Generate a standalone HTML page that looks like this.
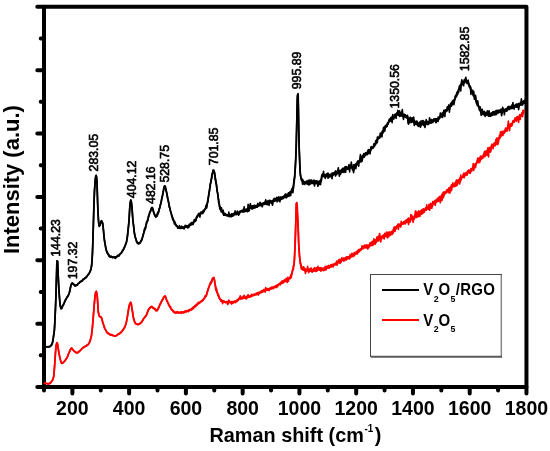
<!DOCTYPE html>
<html><head><meta charset="utf-8"><title>Raman spectra</title>
<style>html,body{margin:0;padding:0;background:#fff;}body{width:550px;height:451px;overflow:hidden;}svg{display:block;}</style>
</head><body>
<svg width="550" height="451" viewBox="0 0 550 451"><rect x="44" y="6.8" width="482.46" height="380.2" fill="none" stroke="#000" stroke-width="4" stroke-linejoin="round"/>
<path d="M44.00,387.0V390.4M72.38,387.0V393.5M100.76,387.0V390.4M129.14,387.0V393.5M157.52,387.0V390.4M185.90,387.0V393.5M214.28,387.0V390.4M242.66,387.0V393.5M271.04,387.0V390.4M299.42,387.0V393.5M327.80,387.0V390.4M356.18,387.0V393.5M384.56,387.0V390.4M412.94,387.0V393.5M441.32,387.0V390.4M469.70,387.0V393.5M498.08,387.0V390.4M526.46,387.0V393.5M44,387.00H37.3M44,355.32H40.7M44,323.63H37.3M44,291.95H40.7M44,260.27H37.3M44,228.58H40.7M44,196.90H37.3M44,165.22H40.7M44,133.53H37.3M44,101.85H40.7M44,70.17H37.3M44,38.48H40.7M44,6.80H37.3" stroke="#000" stroke-width="4" stroke-linecap="round" fill="none"/>
<path d="M44.00,382.6 44.28,382.8 44.57,382.9 44.85,382.9 45.13,383.2 45.42,383.2 45.70,383.3 45.99,383.4 46.27,383.5 46.55,383.6 46.84,383.6 47.12,383.7 47.40,383.7 47.69,383.8 47.97,383.8 48.25,383.8 48.54,383.8 48.82,383.7 49.10,383.6 49.39,383.5 49.67,383.3 49.96,383.2 50.24,383.0 50.52,382.8 50.81,382.4 51.09,382.1 51.37,381.8 51.66,381.4 51.94,381.0 52.22,380.5 52.51,380.1 52.79,379.4 53.08,378.7 53.36,378.0 53.64,376.8 53.93,374.5 54.21,371.1 54.49,367.4 54.78,363.3 55.06,359.1 55.34,354.6 55.63,350.7 55.91,347.8 56.19,345.3 56.48,344.0 56.76,343.1 57.05,342.8 57.33,343.4 57.61,344.6 57.90,346.3 58.18,348.3 58.46,350.1 58.75,351.9 59.03,353.5 59.31,355.2 59.60,356.4 59.88,357.8 60.17,358.8 60.45,359.8 60.73,360.9 61.02,361.9 61.30,362.7 61.58,363.1 61.87,363.3 62.15,363.4 62.43,363.2 62.72,363.0 63.00,362.8 63.28,362.3 63.57,362.2 63.85,361.9 64.14,361.5 64.42,361.2 64.70,361.0 64.99,360.6 65.27,360.3 65.55,359.8 65.84,359.3 66.12,359.0 66.40,358.6 66.69,358.2 66.97,357.7 67.26,357.0 67.54,356.4 67.82,355.9 68.11,355.2 68.39,354.3 68.67,353.7 68.96,353.0 69.24,352.3 69.52,351.7 69.81,351.0 70.09,350.4 70.37,349.8 70.66,349.3 70.94,348.5 71.23,348.3 71.51,348.2 71.79,348.2 72.08,348.5 72.36,348.7 72.64,349.2 72.93,349.6 73.21,350.0 73.49,350.5 73.78,350.7 74.06,350.9 74.35,351.1 74.63,351.6 74.91,351.7 75.20,351.9 75.48,352.2 75.76,352.4 76.05,352.6 76.33,352.7 76.61,352.8 76.90,352.7 77.18,352.8 77.46,352.6 77.75,352.6 78.03,352.5 78.32,352.0 78.60,351.7 78.88,351.7 79.17,351.7 79.45,351.1 79.73,350.8 80.02,350.8 80.30,350.4 80.58,350.1 80.87,349.8 81.15,349.6 81.44,349.2 81.72,349.0 82.00,348.6 82.29,348.3 82.57,348.0 82.85,347.7 83.14,347.6 83.42,347.3 83.70,347.1 83.99,347.2 84.27,346.9 84.55,346.7 84.84,346.6 85.12,346.4 85.41,346.2 85.69,346.1 85.97,346.0 86.26,345.7 86.54,345.7 86.82,345.3 87.11,345.1 87.39,344.9 87.67,344.7 87.96,344.7 88.24,344.2 88.53,344.0 88.81,343.4 89.09,343.2 89.38,342.7 89.66,341.9 89.94,341.2 90.23,340.4 90.51,339.5 90.79,338.5 91.08,337.5 91.36,336.0 91.64,334.1 91.93,331.8 92.21,329.2 92.50,326.3 92.78,323.2 93.06,320.1 93.35,316.3 93.63,312.6 93.91,308.4 94.20,304.8 94.48,301.8 94.76,298.7 95.05,295.9 95.33,294.1 95.62,292.7 95.90,292.4 96.18,291.6 96.47,291.7 96.75,293.0 97.03,295.0 97.32,296.9 97.60,300.4 97.88,305.8 98.17,310.9 98.45,313.0 98.73,313.8 99.02,315.2 99.30,315.7 99.59,316.5 99.87,316.6 100.15,316.8 100.44,316.7 100.72,317.2 101.00,317.3 101.29,317.2 101.57,317.8 101.85,318.7 102.14,319.9 102.42,321.0 102.71,322.5 102.99,323.1 103.27,324.0 103.56,325.0 103.84,325.7 104.12,326.6 104.41,327.4 104.69,328.2 104.97,328.7 105.26,329.4 105.54,329.9 105.82,330.4 106.11,330.9 106.39,331.3 106.68,331.8 106.96,332.1 107.24,332.5 107.53,332.7 107.81,333.0 108.09,333.2 108.38,333.6 108.66,333.6 108.94,333.8 109.23,334.0 109.51,334.2 109.80,334.3 110.08,334.2 110.36,334.6 110.65,334.7 110.93,334.6 111.21,335.0 111.50,334.9 111.78,334.9 112.06,335.2 112.35,335.2 112.63,335.4 112.91,335.3 113.20,335.7 113.48,335.6 113.77,335.5 114.05,335.8 114.33,335.8 114.62,335.9 114.90,335.9 115.18,335.9 115.47,335.9 115.75,335.7 116.03,335.8 116.32,335.6 116.60,335.4 116.89,335.3 117.17,335.2 117.45,334.9 117.74,334.7 118.02,334.6 118.30,334.2 118.59,334.1 118.87,334.0 119.15,333.6 119.44,333.6 119.72,333.4 120.00,333.2 120.29,332.8 120.57,332.6 120.86,332.4 121.14,331.8 121.42,332.2 121.71,331.4 121.99,331.1 122.27,331.0 122.56,330.5 122.84,330.0 123.12,329.9 123.41,329.5 123.69,328.9 123.98,328.5 124.26,328.1 124.54,327.4 124.83,326.9 125.11,326.3 125.39,325.5 125.68,324.6 125.96,323.8 126.24,322.6 126.53,321.5 126.81,319.9 127.09,318.4 127.38,316.7 127.66,315.2 127.95,313.3 128.23,311.6 128.51,309.7 128.80,307.6 129.08,306.0 129.36,305.0 129.65,304.2 129.93,303.5 130.21,303.1 130.50,302.6 130.78,302.7 131.07,303.0 131.35,304.4 131.63,306.3 131.92,307.9 132.20,309.8 132.48,311.3 132.77,313.2 133.05,315.1 133.33,316.9 133.62,318.2 133.90,319.4 134.18,320.2 134.47,321.5 134.75,322.1 135.04,322.6 135.32,323.1 135.60,323.4 135.89,323.6 136.17,323.7 136.45,323.8 136.74,324.1 137.02,324.1 137.30,324.4 137.59,324.5 137.87,324.4 138.16,324.5 138.44,324.2 138.72,324.4 139.01,324.2 139.29,324.2 139.57,324.1 139.86,323.4 140.14,323.5 140.42,323.0 140.71,323.0 140.99,322.4 141.27,322.2 141.56,322.0 141.84,321.7 142.13,321.3 142.41,320.7 142.69,320.3 142.98,320.0 143.26,319.3 143.54,318.6 143.83,318.6 144.11,318.2 144.39,317.9 144.68,317.3 144.96,317.2 145.25,316.5 145.53,316.4 145.81,315.8 146.10,315.6 146.38,315.1 146.66,314.2 146.95,313.7 147.23,312.9 147.51,312.3 147.80,311.5 148.08,310.4 148.36,310.1 148.65,309.6 148.93,309.4 149.22,308.4 149.50,308.3 149.78,308.3 150.07,307.5 150.35,307.2 150.63,307.3 150.92,307.2 151.20,306.8 151.48,307.0 151.77,307.0 152.05,307.3 152.34,307.2 152.62,307.6 152.90,307.4 153.19,307.8 153.47,308.1 153.75,308.6 154.04,308.7 154.32,308.6 154.60,309.1 154.89,309.4 155.17,309.5 155.45,309.7 155.74,309.9 156.02,309.9 156.31,310.4 156.59,310.5 156.87,310.3 157.16,310.5 157.44,309.9 157.72,309.6 158.01,309.0 158.29,308.8 158.57,307.4 158.86,307.1 159.14,306.5 159.43,305.7 159.71,305.3 159.99,304.3 160.28,303.5 160.56,303.5 160.84,302.5 161.13,302.1 161.41,301.4 161.69,301.3 161.98,300.8 162.26,299.9 162.54,299.8 162.83,299.1 163.11,298.5 163.40,298.0 163.68,297.4 163.96,297.2 164.25,296.7 164.53,296.3 164.81,296.5 165.10,296.2 165.38,296.7 165.66,297.3 165.95,298.1 166.23,298.4 166.52,299.8 166.80,300.2 167.08,301.0 167.37,301.6 167.65,302.4 167.93,302.9 168.22,303.3 168.50,303.9 168.78,304.6 169.07,305.1 169.35,306.1 169.63,306.6 169.92,307.0 170.20,307.4 170.49,307.7 170.77,308.2 171.05,308.8 171.34,309.5 171.62,309.7 171.90,309.9 172.19,310.3 172.47,310.6 172.75,310.8 173.04,311.2 173.32,311.5 173.61,312.1 173.89,311.8 174.17,312.2 174.46,312.4 174.74,312.1 175.02,312.5 175.31,312.4 175.59,312.3 175.87,312.5 176.16,312.5 176.44,312.5 176.72,312.5 177.01,312.6 177.29,312.7 177.58,312.4 177.86,312.6 178.14,312.3 178.43,312.7 178.71,312.7 178.99,312.6 179.28,312.7 179.56,312.7 179.84,312.5 180.13,312.5 180.41,312.7 180.70,312.8 180.98,312.7 181.26,313.2 181.55,312.5 181.83,312.7 182.11,312.8 182.40,312.4 182.68,312.2 182.96,312.0 183.25,312.2 183.53,312.4 183.81,312.1 184.10,312.0 184.38,311.7 184.67,311.9 184.95,311.1 185.23,311.6 185.52,311.4 185.80,311.0 186.08,311.8 186.37,310.8 186.65,310.8 186.93,310.7 187.22,311.1 187.50,310.6 187.79,310.8 188.07,310.7 188.35,310.5 188.64,310.1 188.92,310.1 189.20,310.6 189.49,309.7 189.77,309.7 190.05,309.8 190.34,309.9 190.62,309.6 190.90,309.6 191.19,309.0 191.47,309.4 191.76,309.1 192.04,308.4 192.32,309.0 192.61,308.9 192.89,307.9 193.17,307.9 193.46,308.0 193.74,307.0 194.02,306.6 194.31,306.6 194.59,306.5 194.88,306.2 195.16,306.3 195.44,306.0 195.73,305.3 196.01,305.6 196.29,305.7 196.58,305.3 196.86,305.0 197.14,304.5 197.43,304.5 197.71,303.8 197.99,304.0 198.28,303.5 198.56,303.6 198.85,303.2 199.13,302.6 199.41,302.7 199.70,302.8 199.98,301.9 200.26,301.9 200.55,301.6 200.83,301.2 201.11,301.7 201.40,301.6 201.68,301.2 201.97,300.8 202.25,300.4 202.53,300.2 202.82,299.7 203.10,299.9 203.38,299.6 203.67,299.2 203.95,298.4 204.23,298.2 204.52,297.8 204.80,297.9 205.08,297.0 205.37,295.9 205.65,296.1 205.94,296.1 206.22,295.2 206.50,294.7 206.79,293.8 207.07,292.4 207.35,291.6 207.64,290.8 207.92,290.2 208.20,289.4 208.49,288.6 208.77,287.4 209.06,287.1 209.34,286.0 209.62,285.2 209.91,285.1 210.19,284.0 210.47,282.8 210.76,282.9 211.04,282.7 211.32,281.1 211.61,281.5 211.89,281.0 212.17,280.0 212.46,279.2 212.74,278.9 213.03,278.2 213.31,278.4 213.59,277.9 213.88,277.6 214.16,278.8 214.44,280.7 214.73,282.7 215.01,283.7 215.29,285.1 215.58,286.9 215.86,287.4 216.15,288.6 216.43,289.4 216.71,290.8 217.00,292.7 217.28,292.4 217.56,293.7 217.85,294.0 218.13,295.3 218.41,296.3 218.70,296.6 218.98,297.5 219.26,298.1 219.55,298.5 219.83,299.3 220.12,299.3 220.40,299.3 220.68,299.4 220.97,299.7 221.25,300.4 221.53,300.3 221.82,301.5 222.10,301.5 222.38,301.0 222.67,301.1 222.95,301.9 223.24,300.8 223.52,301.4 223.80,301.9 224.09,301.4 224.37,301.6 224.65,301.7 224.94,302.1 225.22,302.0 225.50,302.2 225.79,302.3 226.07,302.2 226.35,302.6 226.64,302.0 226.92,301.8 227.21,301.7 227.49,301.8 227.77,302.2 228.06,302.7 228.34,302.5 228.62,302.2 228.91,302.0 229.19,302.2 229.47,302.3 229.76,302.2 230.04,301.9 230.33,302.2 230.61,302.7 230.89,301.7 231.18,302.3 231.46,301.7 231.74,302.5 232.03,302.1 232.31,301.7 232.59,302.4 232.88,303.0 233.16,302.3 233.44,302.6 233.73,302.1 234.01,301.3 234.30,302.1 234.58,301.7 234.86,301.2 235.15,301.8 235.43,301.5 235.71,301.1 236.00,301.4 236.28,300.6 236.56,301.0 236.85,300.3 237.13,300.6 237.42,299.9 237.70,300.7 237.98,300.0 238.27,300.2 238.55,299.2 238.83,299.1 239.12,299.3 239.40,297.8 239.68,298.3 239.97,298.9 240.25,298.6 240.53,298.7 240.82,298.1 241.10,298.4 241.39,297.8 241.67,297.5 241.95,297.3 242.24,297.7 242.52,297.7 242.80,297.6 243.09,296.4 243.37,297.0 243.65,297.5 243.94,297.7 244.22,297.3 244.51,297.2 244.79,296.6 245.07,298.1 245.36,296.9 245.64,297.9 245.92,297.8 246.21,297.2 246.49,296.9 246.77,297.1 247.06,296.5 247.34,297.0 247.62,296.8 247.91,297.0 248.19,297.1 248.48,297.3 248.76,296.4 249.04,296.9 249.33,296.1 249.61,296.0 249.89,296.0 250.18,295.8 250.46,296.5 250.74,296.4 251.03,296.5 251.31,295.9 251.60,295.9 251.88,295.5 252.16,295.1 252.45,295.7 252.73,295.5 253.01,294.8 253.30,295.4 253.58,294.4 253.86,294.9 254.15,294.6 254.43,294.5 254.71,294.2 255.00,294.8 255.28,294.6 255.57,294.7 255.85,294.2 256.13,293.5 256.42,293.7 256.70,293.3 256.98,293.8 257.27,294.0 257.55,293.6 257.83,293.1 258.12,293.1 258.40,293.2 258.69,292.4 258.97,292.9 259.25,292.8 259.54,292.4 259.82,292.3 260.10,292.5 260.39,291.9 260.67,291.8 260.95,292.4 261.24,292.0 261.52,292.5 261.80,291.3 262.09,290.8 262.37,291.9 262.66,291.7 262.94,290.9 263.22,290.5 263.51,291.0 263.79,290.1 264.07,290.6 264.36,289.7 264.64,290.4 264.92,289.5 265.21,290.2 265.49,290.8 265.78,289.9 266.06,290.3 266.34,289.5 266.63,289.3 266.91,289.0 267.19,290.0 267.48,289.4 267.76,290.0 268.04,288.7 268.33,289.1 268.61,289.1 268.89,289.6 269.18,289.7 269.46,288.6 269.75,288.3 270.03,287.9 270.31,289.2 270.60,288.5 270.88,288.2 271.16,288.4 271.45,287.2 271.73,287.4 272.01,288.5 272.30,288.2 272.58,288.0 272.87,287.4 273.15,288.0 273.43,288.4 273.72,286.9 274.00,287.3 274.28,286.9 274.57,287.1 274.85,286.8 275.13,286.6 275.42,286.0 275.70,286.3 275.98,285.8 276.27,285.9 276.55,285.7 276.84,285.9 277.12,285.1 277.40,285.1 277.69,285.6 277.97,284.8 278.25,284.6 278.54,285.0 278.82,284.6 279.10,284.3 279.39,284.3 279.67,283.4 279.96,284.1 280.24,284.4 280.52,283.9 280.81,282.7 281.09,283.4 281.37,282.7 281.66,282.9 281.94,282.9 282.22,282.1 282.51,283.2 282.79,282.4 283.07,282.7 283.36,282.4 283.64,282.6 283.93,282.4 284.21,280.9 284.49,281.5 284.78,280.2 285.06,280.9 285.34,281.3 285.63,281.2 285.91,281.2 286.19,280.2 286.48,280.4 286.76,280.1 287.05,280.5 287.33,280.5 287.61,279.3 287.90,281.2 288.18,279.1 288.46,278.7 288.75,279.0 289.03,278.9 289.31,278.6 289.60,277.8 289.88,278.7 290.16,277.6 290.45,278.1 290.73,277.7 291.02,275.7 291.30,275.0 291.58,274.1 291.87,273.7 292.15,272.5 292.43,271.5 292.72,270.0 293.00,269.8 293.28,269.4 293.57,266.7 293.85,265.8 294.14,263.9 294.42,259.2 294.70,253.1 294.99,247.6 295.27,240.2 295.55,231.6 295.84,220.9 296.12,210.2 296.40,203.5 296.69,202.7 296.97,203.1 297.25,206.5 297.54,214.8 297.82,219.9 298.11,227.4 298.39,234.5 298.67,244.0 298.96,247.8 299.24,251.9 299.52,256.6 299.81,258.6 300.09,261.9 300.37,263.6 300.66,263.1 300.94,265.2 301.23,265.3 301.51,266.9 301.79,268.0 302.08,267.1 302.36,269.4 302.64,268.6 302.93,268.4 303.21,269.3 303.49,270.0 303.78,268.9 304.06,269.8 304.34,269.0 304.63,270.6 304.91,270.0 305.20,269.7 305.48,270.6 305.76,269.2 306.05,269.8 306.33,271.1 306.61,270.0 306.90,270.9 307.18,270.2 307.46,269.7 307.75,270.0 308.03,270.2 308.32,269.9 308.60,269.7 308.88,269.7 309.17,269.3 309.45,270.3 309.73,270.4 310.02,270.6 310.30,269.1 310.58,270.7 310.87,270.2 311.15,269.3 311.43,270.2 311.72,270.6 312.00,270.4 312.29,270.5 312.57,270.6 312.85,270.6 313.14,270.0 313.42,268.8 313.70,269.5 313.99,270.2 314.27,269.7 314.55,270.3 314.84,270.4 315.12,269.9 315.41,271.0 315.69,269.2 315.97,270.4 316.26,269.5 316.54,269.3 316.82,270.1 317.11,269.3 317.39,270.2 317.67,268.9 317.96,269.6 318.24,269.1 318.52,269.4 318.81,269.3 319.09,268.8 319.38,269.9 319.66,268.7 319.94,268.8 320.23,270.0 320.51,270.0 320.79,269.8 321.08,269.5 321.36,270.7 321.64,268.5 321.93,268.7 322.21,268.5 322.50,269.6 322.78,269.2 323.06,269.7 323.35,269.5 323.63,268.7 323.91,268.3 324.20,268.1 324.48,270.0 324.76,269.1 325.05,268.8 325.33,268.2 325.61,268.2 325.90,268.0 326.18,267.9 326.47,266.5 326.75,267.9 327.03,267.6 327.32,267.9 327.60,267.7 327.88,268.0 328.17,267.4 328.45,267.8 328.73,265.6 329.02,266.4 329.30,268.0 329.59,266.0 329.87,266.5 330.15,267.0 330.44,265.8 330.72,266.7 331.00,265.2 331.29,264.7 331.57,265.0 331.85,264.6 332.14,265.5 332.42,265.1 332.70,265.4 332.99,264.4 333.27,266.5 333.56,264.7 333.84,264.5 334.12,264.7 334.41,264.1 334.69,263.7 334.97,264.0 335.26,264.4 335.54,264.1 335.82,264.1 336.11,263.0 336.39,262.7 336.68,264.3 336.96,262.8 337.24,263.1 337.53,263.1 337.81,263.4 338.09,261.4 338.38,261.9 338.66,261.7 338.94,261.7 339.23,260.2 339.51,261.5 339.79,259.5 340.08,261.5 340.36,261.5 340.65,261.4 340.93,260.1 341.21,261.3 341.50,260.0 341.78,259.6 342.06,259.6 342.35,259.6 342.63,260.1 342.91,260.4 343.20,258.4 343.48,259.3 343.77,260.1 344.05,259.5 344.33,259.6 344.62,258.2 344.90,259.7 345.18,257.9 345.47,259.0 345.75,259.7 346.03,259.9 346.32,258.9 346.60,259.0 346.88,257.9 347.17,257.9 347.45,258.8 347.74,257.9 348.02,257.7 348.30,256.8 348.59,257.7 348.87,257.8 349.15,256.7 349.44,256.8 349.72,258.0 350.00,256.9 350.29,256.4 350.57,255.7 350.86,255.9 351.14,255.9 351.42,256.8 351.71,255.3 351.99,256.7 352.27,254.7 352.56,254.9 352.84,255.5 353.12,254.5 353.41,253.9 353.69,254.2 353.97,254.4 354.26,252.7 354.54,253.5 354.83,253.4 355.11,253.0 355.39,253.6 355.68,252.5 355.96,252.4 356.24,252.5 356.53,252.8 356.81,251.9 357.09,252.9 357.38,251.0 357.66,252.3 357.95,250.6 358.23,250.9 358.51,251.0 358.80,252.0 359.08,251.0 359.36,249.9 359.65,250.9 359.93,249.6 360.21,249.0 360.50,249.7 360.78,249.3 361.06,249.7 361.35,248.5 361.63,249.0 361.92,249.0 362.20,248.6 362.48,248.2 362.77,247.6 363.05,248.6 363.33,248.0 363.62,248.1 363.90,247.4 364.18,247.5 364.47,246.7 364.75,247.3 365.04,247.7 365.32,247.1 365.60,247.5 365.89,247.0 366.17,247.7 366.45,246.5 366.74,245.3 367.02,246.7 367.30,246.1 367.59,245.4 367.87,246.4 368.15,246.0 368.44,246.0 368.72,245.3 369.01,245.5 369.29,245.4 369.57,246.3 369.86,244.4 370.14,244.7 370.42,244.8 370.71,243.2 370.99,243.1 371.27,245.6 371.56,242.6 371.84,244.1 372.13,242.9 372.41,242.8 372.69,241.7 372.98,242.3 373.26,243.4 373.54,241.6 373.83,242.9 374.11,242.5 374.39,243.5 374.68,241.5 374.96,242.6 375.24,242.2 375.53,241.1 375.81,239.9 376.10,242.0 376.38,239.7 376.66,240.2 376.95,241.0 377.23,240.9 377.51,239.3 377.80,239.7 378.08,239.3 378.36,240.2 378.65,240.9 378.93,237.5 379.22,239.4 379.50,236.4 379.78,238.3 380.07,237.3 380.35,239.4 380.63,237.9 380.92,237.0 381.20,237.1 381.48,236.8 381.77,237.3 382.05,236.8 382.33,237.3 382.62,237.8 382.90,237.0 383.19,235.5 383.47,235.0 383.75,235.5 384.04,236.7 384.32,235.6 384.60,235.2 384.89,235.6 385.17,234.3 385.45,234.4 385.74,235.5 386.02,234.7 386.31,234.5 386.59,234.9 386.87,234.1 387.16,233.9 387.44,233.9 387.72,234.5 388.01,234.0 388.29,232.8 388.57,233.4 388.86,233.9 389.14,234.7 389.42,232.2 389.71,233.2 389.99,232.6 390.28,233.3 390.56,232.8 390.84,233.4 391.13,232.5 391.41,231.5 391.69,231.4 391.98,231.9 392.26,231.7 392.54,233.1 392.83,232.3 393.11,229.9 393.40,230.9 393.68,229.4 393.96,228.9 394.25,230.6 394.53,230.2 394.81,228.7 395.10,230.6 395.38,228.2 395.66,227.8 395.95,229.0 396.23,228.4 396.51,227.8 396.80,227.6 397.08,227.6 397.37,227.0 397.65,226.7 397.93,225.1 398.22,225.3 398.50,226.6 398.78,225.3 399.07,226.1 399.35,226.4 399.63,225.0 399.92,225.3 400.20,226.5 400.49,225.2 400.77,225.9 401.05,225.5 401.34,224.7 401.62,223.8 401.90,223.1 402.19,222.7 402.47,223.8 402.75,223.6 403.04,222.9 403.32,223.6 403.60,222.2 403.89,223.5 404.17,222.4 404.46,222.2 404.74,222.1 405.02,221.8 405.31,223.8 405.59,220.3 405.87,221.6 406.16,222.3 406.44,221.7 406.72,220.8 407.01,222.3 407.29,219.8 407.58,219.5 407.86,220.9 408.14,219.0 408.43,218.1 408.71,220.7 408.99,220.4 409.28,220.2 409.56,219.1 409.84,219.5 410.13,218.4 410.41,220.4 410.69,219.5 410.98,219.3 411.26,216.9 411.55,219.0 411.83,219.4 412.11,219.0 412.40,218.5 412.68,217.7 412.96,217.2 413.25,217.8 413.53,217.5 413.81,217.2 414.10,216.6 414.38,218.1 414.67,215.5 414.95,216.3 415.23,215.7 415.52,216.9 415.80,217.0 416.08,216.7 416.37,216.2 416.65,214.2 416.93,216.9 417.22,215.5 417.50,214.8 417.78,214.7 418.07,214.2 418.35,214.7 418.64,214.4 418.92,213.7 419.20,211.7 419.49,213.6 419.77,213.9 420.05,213.8 420.34,213.0 420.62,213.4 420.90,213.7 421.19,212.2 421.47,213.7 421.76,210.6 422.04,211.0 422.32,211.1 422.61,209.6 422.89,210.7 423.17,212.4 423.46,212.2 423.74,211.0 424.02,212.2 424.31,210.8 424.59,209.9 424.87,210.4 425.16,209.8 425.44,210.4 425.73,208.2 426.01,210.2 426.29,208.7 426.58,209.6 426.86,207.4 427.14,208.1 427.43,208.3 427.71,208.8 427.99,206.8 428.28,209.1 428.56,207.8 428.85,206.7 429.13,208.0 429.41,206.8 429.70,207.5 429.98,208.3 430.26,206.7 430.55,205.4 430.83,205.2 431.11,205.9 431.40,205.4 431.68,204.2 431.96,204.1 432.25,205.0 432.53,206.3 432.82,201.6 433.10,204.4 433.38,203.3 433.67,203.9 433.95,203.8 434.23,202.8 434.52,201.6 434.80,201.1 435.08,200.4 435.37,202.9 435.65,201.4 435.94,200.9 436.22,200.9 436.50,199.7 436.79,200.9 437.07,201.6 437.35,201.2 437.64,198.5 437.92,200.9 438.20,198.7 438.49,197.4 438.77,197.8 439.05,197.8 439.34,198.4 439.62,197.2 439.91,196.5 440.19,197.4 440.47,199.1 440.76,196.5 441.04,197.2 441.32,196.6 441.61,198.7 441.89,194.3 442.17,196.8 442.46,194.4 442.74,194.7 443.03,194.9 443.31,197.6 443.59,193.8 443.88,192.5 444.16,195.1 444.44,192.9 444.73,193.2 445.01,193.1 445.29,193.0 445.58,192.5 445.86,192.6 446.14,192.4 446.43,192.6 446.71,191.2 447.00,190.6 447.28,190.1 447.56,191.3 447.85,190.5 448.13,190.8 448.41,190.5 448.70,191.3 448.98,189.7 449.26,189.9 449.55,187.9 449.83,187.8 450.12,188.2 450.40,187.1 450.68,188.6 450.97,186.5 451.25,187.5 451.53,185.0 451.82,185.9 452.10,186.4 452.38,186.2 452.67,184.6 452.95,186.0 453.23,186.5 453.52,186.0 453.80,184.5 454.09,184.4 454.37,183.6 454.65,184.9 454.94,185.4 455.22,183.4 455.50,182.1 455.79,183.5 456.07,183.7 456.35,180.4 456.64,182.7 456.92,184.3 457.21,182.8 457.49,182.3 457.77,181.9 458.06,182.3 458.34,180.2 458.62,180.0 458.91,180.9 459.19,179.7 459.47,180.3 459.76,178.1 460.04,180.2 460.32,180.0 460.61,179.1 460.89,178.9 461.18,180.0 461.46,177.3 461.74,177.2 462.03,176.8 462.31,177.1 462.59,176.4 462.88,177.1 463.16,176.2 463.44,175.2 463.73,174.9 464.01,177.2 464.30,175.8 464.58,175.4 464.86,175.4 465.15,175.0 465.43,175.5 465.71,175.1 466.00,173.8 466.28,173.4 466.56,172.9 466.85,172.5 467.13,174.7 467.41,172.3 467.70,171.1 467.98,171.9 468.27,171.7 468.55,172.4 468.83,171.1 469.12,172.1 469.40,171.7 469.68,172.2 469.97,172.8 470.25,173.1 470.53,171.5 470.82,169.0 471.10,169.4 471.39,169.7 471.67,171.0 471.95,169.5 472.24,169.7 472.52,168.1 472.80,168.5 473.09,168.3 473.37,166.9 473.65,167.7 473.94,167.6 474.22,166.1 474.50,166.8 474.79,167.0 475.07,165.2 475.36,164.8 475.64,164.1 475.92,163.5 476.21,163.8 476.49,162.9 476.77,162.6 477.06,161.8 477.34,160.7 477.62,160.9 477.91,161.7 478.19,160.0 478.48,160.1 478.76,161.8 479.04,161.0 479.33,159.1 479.61,159.9 479.89,158.5 480.18,160.3 480.46,158.0 480.74,158.4 481.03,159.3 481.31,157.1 481.59,158.8 481.88,156.7 482.16,157.4 482.45,156.7 482.73,156.7 483.01,156.7 483.30,156.3 483.58,155.3 483.86,156.7 484.15,156.4 484.43,156.7 484.71,156.5 485.00,153.8 485.28,155.9 485.57,155.6 485.85,153.7 486.13,154.9 486.42,155.0 486.70,152.9 486.98,151.8 487.27,152.4 487.55,155.0 487.83,152.4 488.12,150.8 488.40,151.3 488.68,150.3 488.97,150.6 489.25,150.7 489.54,148.0 489.82,150.3 490.10,150.9 490.39,149.1 490.67,148.6 490.95,149.6 491.24,147.1 491.52,146.8 491.80,146.4 492.09,147.1 492.37,147.3 492.66,146.5 492.94,146.7 493.22,146.6 493.51,146.0 493.79,144.5 494.07,144.6 494.36,145.6 494.64,143.2 494.92,143.5 495.21,143.0 495.49,142.8 495.77,141.6 496.06,141.0 496.34,144.1 496.63,142.3 496.91,140.4 497.19,140.6 497.48,140.8 497.76,139.5 498.04,140.0 498.33,138.5 498.61,138.4 498.89,138.2 499.18,137.5 499.46,135.4 499.75,137.2 500.03,137.1 500.31,136.9 500.60,135.2 500.88,136.1 501.16,135.6 501.45,133.5 501.73,132.7 502.01,134.8 502.30,133.2 502.58,134.6 502.86,135.3 503.15,132.5 503.43,132.0 503.72,132.3 504.00,132.6 504.28,130.6 504.57,132.4 504.85,131.9 505.13,131.3 505.42,129.8 505.70,130.8 505.98,130.5 506.27,128.3 506.55,130.9 506.84,128.5 507.12,128.8 507.40,127.7 507.69,128.2 507.97,128.6 508.25,126.5 508.54,125.4 508.82,126.2 509.10,125.2 509.39,125.4 509.67,125.6 509.95,125.4 510.24,126.3 510.52,124.0 510.81,124.9 511.09,123.9 511.37,125.3 511.66,126.0 511.94,123.7 512.22,124.7 512.51,122.4 512.79,121.2 513.07,121.2 513.36,120.6 513.64,120.9 513.93,121.2 514.21,122.2 514.49,121.5 514.78,121.0 515.06,119.9 515.34,119.4 515.63,119.8 515.91,119.6 516.19,119.4 516.48,119.2 516.76,118.5 517.04,116.6 517.33,117.0 517.61,117.0 517.90,119.0 518.18,116.8 518.46,117.5 518.75,118.0 519.03,116.7 519.31,115.7 519.60,115.5 519.88,114.6 520.16,115.5 520.45,116.0 520.73,115.2 521.02,115.1 521.30,114.8 521.58,115.7 521.87,113.0 522.15,113.4 522.43,113.6 522.72,113.9 523.00,110.3 523.28,111.7 523.57,111.7 523.85,110.7 524.13,112.1" stroke="#f00" stroke-width="1.8" fill="none" stroke-linejoin="round"/>
<path d="M44.00,382.6 44.57,383.1 45.13,383.3 45.70,383.2 46.27,383.4 46.84,383.5 47.40,383.8 47.97,383.8 48.54,383.9 49.10,383.3 49.67,383.6 50.24,383.0 50.80,382.7 51.37,381.8 51.94,380.9 52.51,380.0 53.07,378.9 53.64,376.8 54.21,371.1 54.77,363.5 55.34,354.6 55.91,347.5 56.47,344.1 57.04,342.6 57.61,344.0 58.18,348.1 58.74,351.7 59.31,354.8 59.88,357.4 60.44,359.9 61.01,362.1 61.58,363.1 62.14,363.2 62.71,363.1 63.28,362.6 63.85,361.8 64.41,361.4 64.98,360.8 65.55,359.8 66.11,358.9 66.68,358.2 67.25,357.2 67.81,356.1 68.38,354.1 68.95,352.8 69.52,351.4 70.08,350.0 70.65,349.3 71.22,348.5 71.78,348.1 72.35,349.1 72.92,349.8 73.48,350.5 74.05,351.0 74.62,351.7 75.19,351.6 75.75,352.5 76.32,352.8 76.89,352.4 77.45,352.8 78.02,352.3 78.59,352.1 79.15,351.3 79.72,350.9 80.29,350.5 80.86,349.7 81.42,349.4 81.99,348.6 82.56,348.2 83.12,347.5 83.69,347.5 84.26,347.1 84.82,346.5 85.39,346.4 85.96,346.3 86.53,346.1 87.09,344.8 87.66,345.0 88.23,344.4 88.79,343.6 89.36,342.4 89.93,341.6 90.49,339.2 91.06,337.5 91.63,334.7 92.20,328.8 92.76,323.3 93.33,316.3 93.90,308.8 94.46,302.4 95.03,296.8 95.60,292.2 96.16,291.3 96.73,293.3 97.30,297.6 97.87,305.6 98.43,312.5 99.00,315.3 99.57,316.4 100.13,316.7 100.70,316.7 101.27,317.4 101.83,318.8 102.40,321.0 102.97,323.1 103.54,324.5 104.10,326.4 104.67,328.5 105.24,329.3 105.80,330.0 106.37,331.7 106.94,332.3 107.50,333.4 108.07,333.3 108.64,333.5 109.21,333.6 109.77,334.7 110.34,335.3 110.91,334.5 111.47,334.8 112.04,335.3 112.61,335.1 113.17,335.5 113.74,335.6 114.31,335.9 114.88,336.2 115.44,335.9 116.01,336.0 116.58,335.4 117.14,335.3 117.71,334.2 118.28,334.0 118.84,334.2 119.41,333.4 119.98,333.3 120.55,332.8 121.11,332.5 121.68,331.8 122.25,331.2 122.81,330.2 123.38,329.2 123.95,328.3 124.51,327.4 125.08,326.0 125.65,324.7 126.22,322.8 126.78,320.1 127.35,316.8 127.92,312.9 128.48,309.7 129.05,306.3 129.62,304.8 130.18,303.3 130.75,302.2 131.32,303.9 131.89,308.5 132.45,311.4 133.02,315.7 133.59,319.0 134.15,320.0 134.72,322.1 135.29,323.3 135.85,323.9 136.42,324.1 136.99,324.2 137.56,324.4 138.12,323.8 138.69,324.3 139.26,323.8 139.82,323.8 140.39,323.0 140.96,322.9 141.52,322.3 142.09,321.5 142.66,320.5 143.23,319.4 143.79,318.3 144.36,317.7 144.93,316.9 145.49,316.5 146.06,315.5 146.63,314.7 147.19,312.4 147.76,311.9 148.33,309.7 148.90,308.8 149.46,308.3 150.03,307.5 150.60,307.4 151.16,306.7 151.73,306.4 152.30,306.8 152.86,308.2 153.43,308.1 154.00,308.0 154.57,309.0 155.13,308.7 155.70,310.8 156.27,309.6 156.83,310.7 157.40,310.4 157.97,308.4 158.53,308.0 159.10,306.9 159.67,305.4 160.24,304.2 160.80,303.4 161.37,301.8 161.94,300.8 162.50,299.6 163.07,298.9 163.64,297.0 164.20,297.2 164.77,296.0 165.34,296.0 165.91,297.9 166.47,300.2 167.04,301.4 167.61,301.9 168.17,303.8 168.74,304.3 169.31,305.7 169.87,306.8 170.44,306.4 171.01,308.7 171.58,308.9 172.14,309.9 172.71,310.1 173.28,310.6 173.84,311.2 174.41,312.4 174.98,313.1 175.54,312.3 176.11,313.1 176.68,312.4 177.25,311.5 177.81,312.7 178.38,312.9 178.95,312.4 179.51,312.8 180.08,312.9 180.65,312.1 181.21,311.7 181.78,312.4 182.35,312.3 182.92,312.1 183.48,312.7 184.05,313.0 184.62,311.5 185.18,312.0 185.75,311.9 186.32,311.6 186.88,311.6 187.45,310.6 188.02,311.1 188.59,311.7 189.15,310.7 189.72,309.6 190.29,310.1 190.85,310.2 191.42,309.4 191.99,308.4 192.55,309.4 193.12,307.1 193.69,307.8 194.26,306.9 194.82,305.6 195.39,306.8 195.96,305.7 196.52,304.2 197.09,304.9 197.66,303.8 198.22,302.3 198.79,302.7 199.36,302.9 199.93,302.7 200.49,302.0 201.06,301.5 201.63,301.3 202.19,300.3 202.76,300.8 203.33,299.4 203.89,298.9 204.46,298.3 205.03,296.2 205.60,295.6 206.16,296.3 206.73,294.2 207.30,292.1 207.86,290.7 208.43,288.2 209.00,287.1 209.56,285.0 210.13,284.6 210.70,282.0 211.27,283.5 211.83,280.8 212.40,278.5 212.97,278.3 213.53,277.5 214.10,279.0 214.67,280.6 215.23,285.1 215.80,290.4 216.37,288.5 216.94,292.0 217.50,293.2 218.07,295.2 218.64,295.0 219.20,296.8 219.77,299.0 220.34,299.3 220.90,301.2 221.47,299.8 222.04,301.0 222.61,303.6 223.17,300.8 223.74,300.8 224.31,301.7 224.87,301.9 225.44,302.7 226.01,302.2 226.57,301.6 227.14,302.5 227.71,304.6 228.28,303.5 228.84,300.0 229.41,302.3 229.98,301.7 230.54,302.9 231.11,302.3 231.68,304.1 232.24,303.2 232.81,303.1 233.38,302.4 233.95,302.1 234.51,302.2 235.08,302.7 235.65,301.8 236.21,300.7 236.78,301.8 237.35,300.5 237.91,299.9 238.48,298.8 239.05,298.6 239.62,298.1 240.18,295.8 240.75,299.2 241.32,298.6 241.88,297.8 242.45,298.9 243.02,298.2 243.58,298.0 244.15,295.2 244.72,297.2 245.29,297.9 245.85,298.8 246.42,298.9 246.99,298.3 247.55,295.7 248.12,294.6 248.69,297.1 249.25,296.5 249.82,297.2 250.39,296.0 250.96,296.2 251.52,294.3 252.09,296.1 252.66,295.0 253.22,295.5 253.79,295.4 254.36,294.6 254.92,294.8 255.49,294.3 256.06,294.8 256.63,294.3 257.19,293.0 257.76,292.7 258.33,295.0 258.89,292.8 259.46,293.7 260.03,292.8 260.59,291.6 261.16,291.2 261.73,291.9 262.30,291.8 262.86,291.9 263.43,289.6 264.00,290.1 264.56,290.4 265.13,292.1 265.70,287.5 266.26,290.4 266.83,289.1 267.40,289.9 267.97,288.7 268.53,289.5 269.10,290.7 269.67,289.2 270.23,289.2 270.80,288.9 271.37,287.5 271.93,288.8 272.50,287.7 273.07,286.8 273.64,287.4 274.20,286.9 274.77,287.7 275.34,286.5 275.90,285.5 276.47,287.6 277.04,286.7 277.60,286.7 278.17,285.5 278.74,284.4 279.31,283.7 279.87,283.6 280.44,284.8 281.01,283.5 281.57,281.2 282.14,282.7 282.71,280.7 283.27,282.4 283.84,280.3 284.41,279.9 284.98,281.3 285.54,280.7 286.11,278.4 286.68,281.1 287.24,282.5 287.81,277.4 288.38,281.3 288.94,277.7 289.51,277.5 290.08,277.5 290.65,275.1 291.21,277.6 291.78,274.5 292.35,270.7 292.91,269.5 293.48,265.7 294.05,264.1 294.61,256.7 295.18,238.9 295.75,223.8 296.32,203.5 296.88,205.3 297.45,213.7 298.02,223.9 298.58,240.1 299.15,252.1 299.72,257.7 300.28,262.0 300.85,266.6 301.42,269.2 301.99,268.2 302.55,268.4 303.12,270.1 303.69,266.9 304.25,269.8 304.82,268.4 305.39,273.5 305.95,271.1 306.52,270.3 307.09,269.8 307.66,266.4 308.22,271.2 308.79,272.6 309.36,269.1 309.92,271.2 310.49,271.3 311.06,267.9 311.62,271.6 312.19,272.2 312.76,270.4 313.33,269.9 313.89,271.2 314.46,267.6 315.03,270.0 315.59,271.4 316.16,267.9 316.73,271.3 317.29,269.1 317.86,266.4 318.43,269.4 319.00,268.0 319.56,270.0 320.13,267.6 320.70,271.0 321.26,268.1 321.83,269.8 322.40,268.2 322.96,268.5 323.53,270.7 324.10,269.1 324.67,268.0 325.23,266.4 325.80,270.0 326.37,269.2 326.93,267.3 327.50,268.0 328.07,265.8 328.63,265.6 329.20,265.7 329.77,267.3 330.34,266.9 330.90,265.0 331.47,267.0 332.04,266.8 332.60,265.5 333.17,266.6 333.74,264.2 334.30,264.1 334.87,264.8 335.44,263.6 336.01,264.7 336.57,261.1 337.14,265.1 337.71,261.3 338.27,262.0 338.84,259.7 339.41,262.6 339.97,263.4 340.54,262.8 341.11,262.1 341.68,257.9 342.24,258.9 342.81,259.2 343.38,258.2 343.94,261.3 344.51,259.5 345.08,259.0 345.64,259.6 346.21,257.0 346.78,256.8 347.35,256.7 347.91,258.7 348.48,258.2 349.05,258.3 349.61,258.8 350.18,254.4 350.75,255.4 351.31,256.2 351.88,253.3 352.45,254.3 353.02,256.5 353.58,256.2 354.15,255.8 354.72,253.6 355.28,252.8 355.85,254.6 356.42,251.7 356.98,252.5 357.55,253.8 358.12,250.4 358.69,249.6 359.25,250.2 359.82,250.9 360.39,250.3 360.95,249.4 361.52,249.7 362.09,245.7 362.65,246.7 363.22,248.2 363.79,246.0 364.36,245.1 364.92,245.1 365.49,245.4 366.06,246.4 366.62,244.7 367.19,246.7 367.76,249.0 368.32,245.5 368.89,247.7 369.46,245.6 370.03,242.8 370.59,244.0 371.16,242.4 371.73,245.1 372.29,241.3 372.86,245.4 373.43,243.7 373.99,238.7 374.56,243.4 375.13,244.4 375.70,239.8 376.26,242.6 376.83,237.1 377.40,240.4 377.96,236.5 378.53,240.0 379.10,235.5 379.66,233.5 380.23,238.7 380.80,241.9 381.37,236.2 381.93,238.6 382.50,236.9 383.07,235.8 383.63,237.3 384.20,238.9 384.77,233.3 385.33,236.4 385.90,235.7 386.47,232.1 387.04,237.5 387.60,237.8 388.17,232.0 388.74,236.8 389.30,233.3 389.87,232.6 390.44,235.4 391.00,232.6 391.57,232.5 392.14,234.4 392.71,233.6 393.27,232.4 393.84,227.6 394.41,226.9 394.97,231.5 395.54,227.1 396.11,228.6 396.67,225.7 397.24,226.9 397.81,224.2 398.38,229.4 398.94,223.8 399.51,225.1 400.08,224.6 400.64,226.9 401.21,221.4 401.78,223.7 402.34,223.1 402.91,224.2 403.48,223.7 404.05,221.5 404.61,222.6 405.18,221.1 405.75,222.5 406.31,221.0 406.88,219.6 407.45,220.6 408.01,221.0 408.58,224.5 409.15,218.7 409.72,220.0 410.28,222.0 410.85,214.6 411.42,214.9 411.98,215.7 412.55,217.5 413.12,222.4 413.68,217.9 414.25,219.2 414.82,216.0 415.39,211.1 415.95,211.0 416.52,217.5 417.09,215.5 417.65,212.1 418.22,216.7 418.79,210.9 419.35,216.1 419.92,216.4 420.49,211.5 421.06,210.4 421.62,214.1 422.19,209.7 422.76,213.4 423.32,208.7 423.89,212.5 424.46,210.6 425.02,209.1 425.59,207.8 426.16,209.7 426.73,204.8 427.29,207.8 427.86,207.1 428.43,208.9 428.99,204.4 429.56,210.3 430.13,205.5 430.69,203.3 431.26,208.2 431.83,208.3 432.40,203.9 432.96,201.9 433.53,203.4 434.10,201.4 434.66,201.8 435.23,205.3 435.80,202.3 436.36,201.3 436.93,201.3 437.50,199.9 438.07,201.4 438.63,200.9 439.20,197.7 439.77,198.2 440.33,202.8 440.90,197.9 441.47,196.0 442.03,200.4 442.60,195.4 443.17,192.4 443.74,195.8 444.30,191.8 444.87,192.2 445.44,193.5 446.00,191.9 446.57,190.0 447.14,190.0 447.70,189.3 448.27,192.7 448.84,188.0 449.41,187.9 449.97,193.1 450.54,186.9 451.11,190.8 451.67,190.0 452.24,186.2 452.81,182.9 453.37,186.5 453.94,186.5 454.51,186.6 455.08,184.2 455.64,186.1 456.21,186.0 456.78,180.1 457.34,185.1 457.91,181.8 458.48,179.7 459.04,179.7 459.61,184.0 460.18,181.6 460.75,175.0 461.31,178.6 461.88,177.6 462.45,177.0 463.01,175.8 463.58,173.2 464.15,177.8 464.71,173.4 465.28,174.2 465.85,173.2 466.42,172.4 466.98,175.2 467.55,173.9 468.12,171.0 468.68,169.9 469.25,170.5 469.82,173.1 470.38,170.7 470.95,170.4 471.52,168.6 472.09,168.2 472.65,168.6 473.22,163.5 473.79,170.4 474.35,164.4 474.92,164.1 475.49,167.6 476.05,164.3 476.62,163.2 477.19,161.0 477.76,158.1 478.32,161.3 478.89,162.8 479.46,157.6 480.02,162.0 480.59,156.0 481.16,156.4 481.72,158.7 482.29,157.1 482.86,158.2 483.43,154.7 483.99,153.6 484.56,151.3 485.13,152.2 485.69,152.0 486.26,150.7 486.83,153.9 487.39,151.2 487.96,147.7 488.53,156.9 489.10,148.9 489.66,147.4 490.23,152.2 490.80,151.4 491.36,145.6 491.93,144.2 492.50,144.6 493.06,148.6 493.63,144.7 494.20,142.9 494.77,143.9 495.33,145.8 495.90,139.3 496.47,140.8 497.03,137.8 497.60,144.8 498.17,143.3 498.73,140.6 499.30,137.5 499.87,138.5 500.44,131.7 501.00,136.2 501.57,132.0 502.14,131.3 502.70,132.0 503.27,132.1 503.84,133.4 504.40,133.0 504.97,131.4 505.54,128.1 506.11,131.0 506.67,128.7 507.24,130.9 507.81,125.7 508.37,121.0 508.94,125.5 509.51,130.7 510.07,126.4 510.64,124.3 511.21,126.1 511.78,124.7 512.34,124.1 512.91,121.4 513.48,122.1 514.04,121.8 514.61,119.4 515.18,117.7 515.74,119.9 516.31,121.2 516.88,119.9 517.45,119.0 518.01,118.5 518.58,122.5 519.15,116.8 519.71,118.0 520.28,119.4 520.85,114.7 521.41,114.6 521.98,115.8 522.55,116.6 523.12,113.0 523.68,112.6 524.25,111.4" stroke="#f00" stroke-width="1.6" fill="none" stroke-linejoin="round"/>
<path d="M44.00,347.0 44.28,346.9 44.57,346.9 44.85,346.7 45.13,347.1 45.42,347.1 45.70,346.9 45.99,347.0 46.27,346.9 46.55,346.8 46.84,347.0 47.12,346.8 47.40,346.8 47.69,346.8 47.97,346.9 48.25,346.8 48.54,346.8 48.82,346.7 49.10,346.7 49.39,346.6 49.67,346.7 49.96,346.5 50.24,346.3 50.52,346.1 50.81,345.7 51.09,345.6 51.37,345.4 51.66,344.7 51.94,344.2 52.22,343.3 52.51,342.4 52.79,340.9 53.08,339.5 53.36,337.5 53.64,335.3 53.93,333.5 54.21,331.7 54.49,328.9 54.78,323.2 55.06,316.8 55.34,310.9 55.63,304.7 55.91,296.6 56.19,286.9 56.48,277.1 56.76,265.9 57.05,261.0 57.33,261.3 57.61,261.3 57.90,267.7 58.18,275.5 58.46,280.8 58.75,286.4 59.03,291.5 59.31,295.6 59.60,299.3 59.88,302.7 60.17,305.1 60.45,306.8 60.73,307.6 61.02,308.5 61.30,308.7 61.58,308.5 61.87,308.1 62.15,307.6 62.43,306.7 62.72,305.9 63.00,305.2 63.28,305.1 63.57,304.3 63.85,303.9 64.14,303.0 64.42,302.3 64.70,301.8 64.99,301.1 65.27,300.3 65.55,299.8 65.84,299.6 66.12,298.8 66.40,298.3 66.69,297.8 66.97,297.3 67.26,297.1 67.54,296.5 67.82,296.0 68.11,295.6 68.39,295.0 68.67,294.6 68.96,294.1 69.24,292.9 69.52,292.2 69.81,290.6 70.09,289.5 70.37,288.0 70.66,286.9 70.94,285.8 71.23,284.7 71.51,283.8 71.79,283.3 72.08,283.1 72.36,283.0 72.64,283.3 72.93,283.6 73.21,283.9 73.49,284.2 73.78,284.7 74.06,284.7 74.35,284.8 74.63,285.4 74.91,285.1 75.20,285.5 75.48,285.2 75.76,285.4 76.05,284.9 76.33,285.3 76.61,284.9 76.90,284.6 77.18,284.8 77.46,284.4 77.75,284.0 78.03,283.6 78.32,283.5 78.60,283.2 78.88,283.2 79.17,283.0 79.45,282.6 79.73,282.4 80.02,282.2 80.30,281.8 80.58,281.7 80.87,281.6 81.15,281.5 81.44,281.4 81.72,280.9 82.00,280.9 82.29,280.5 82.57,280.7 82.85,280.1 83.14,279.9 83.42,279.4 83.70,279.2 83.99,279.1 84.27,278.8 84.55,278.6 84.84,278.0 85.12,278.2 85.41,277.6 85.69,277.8 85.97,277.2 86.26,277.2 86.54,276.4 86.82,276.5 87.11,275.9 87.39,275.7 87.67,275.4 87.96,275.0 88.24,274.7 88.53,274.4 88.81,274.0 89.09,273.4 89.38,272.7 89.66,272.2 89.94,271.8 90.23,270.7 90.51,270.5 90.79,269.3 91.08,268.1 91.36,267.0 91.64,265.1 91.93,262.1 92.21,257.9 92.50,253.1 92.78,244.7 93.06,234.3 93.35,225.2 93.63,215.7 93.91,205.6 94.20,197.8 94.48,191.3 94.76,187.0 95.05,182.6 95.33,178.9 95.62,177.1 95.90,176.1 96.18,175.4 96.47,176.7 96.75,178.7 97.03,182.5 97.32,192.9 97.60,203.0 97.88,209.7 98.17,215.2 98.45,219.7 98.73,223.2 99.02,225.7 99.30,226.4 99.59,225.8 99.87,225.0 100.15,225.1 100.44,223.7 100.72,223.3 101.00,221.9 101.29,221.5 101.57,220.8 101.85,221.7 102.14,222.1 102.42,222.5 102.71,223.5 102.99,225.6 103.27,228.6 103.56,231.4 103.84,234.5 104.12,237.4 104.41,239.9 104.69,241.7 104.97,243.4 105.26,244.8 105.54,246.8 105.82,248.3 106.11,248.9 106.39,250.7 106.68,251.1 106.96,251.6 107.24,252.0 107.53,253.2 107.81,253.7 108.09,254.0 108.38,254.3 108.66,255.3 108.94,255.4 109.23,255.7 109.51,256.6 109.80,256.7 110.08,256.6 110.36,256.4 110.65,256.7 110.93,256.3 111.21,256.8 111.50,256.8 111.78,256.8 112.06,256.8 112.35,257.3 112.63,257.2 112.91,257.3 113.20,257.5 113.48,257.2 113.77,257.1 114.05,257.0 114.33,257.3 114.62,257.5 114.90,257.3 115.18,257.4 115.47,257.0 115.75,257.0 116.03,256.9 116.32,256.7 116.60,257.2 116.89,256.8 117.17,256.4 117.45,256.2 117.74,256.2 118.02,255.7 118.30,255.9 118.59,255.4 118.87,255.4 119.15,255.1 119.44,254.9 119.72,254.5 120.00,254.1 120.29,253.9 120.57,253.6 120.86,253.3 121.14,253.0 121.42,252.9 121.71,252.3 121.99,251.7 122.27,251.4 122.56,250.6 122.84,250.6 123.12,249.9 123.41,249.1 123.69,249.0 123.98,248.5 124.26,247.3 124.54,247.1 124.83,246.6 125.11,245.7 125.39,245.1 125.68,244.4 125.96,243.9 126.24,242.9 126.53,242.4 126.81,240.4 127.09,239.0 127.38,236.7 127.66,234.4 127.95,231.5 128.23,228.5 128.51,225.9 128.80,223.3 129.08,219.5 129.36,214.5 129.65,209.7 129.93,205.2 130.21,203.0 130.50,201.4 130.78,200.0 131.07,200.3 131.35,201.8 131.63,204.7 131.92,207.2 132.20,210.6 132.48,214.7 132.77,218.5 133.05,221.4 133.33,223.8 133.62,226.3 133.90,228.5 134.18,231.4 134.47,233.8 134.75,234.6 135.04,236.5 135.32,237.7 135.60,238.2 135.89,239.4 136.17,239.9 136.45,241.2 136.74,241.4 137.02,242.2 137.30,242.9 137.59,243.0 137.87,243.0 138.16,243.5 138.44,243.9 138.72,243.6 139.01,243.6 139.29,243.0 139.57,243.0 139.86,242.8 140.14,242.3 140.42,242.3 140.71,241.4 140.99,240.7 141.27,240.1 141.56,240.2 141.84,239.2 142.13,238.7 142.41,237.7 142.69,237.1 142.98,236.0 143.26,234.6 143.54,233.8 143.83,233.0 144.11,231.4 144.39,231.2 144.68,230.3 144.96,229.3 145.25,228.0 145.53,227.2 145.81,225.8 146.10,225.2 146.38,224.1 146.66,223.3 146.95,222.2 147.23,221.5 147.51,220.8 147.80,219.1 148.08,218.8 148.36,216.9 148.65,215.8 148.93,215.4 149.22,214.5 149.50,213.7 149.78,212.1 150.07,211.7 150.35,211.1 150.63,210.7 150.92,209.5 151.20,209.0 151.48,207.9 151.77,207.7 152.05,207.4 152.34,208.0 152.62,207.9 152.90,208.8 153.19,210.3 153.47,211.9 153.75,212.5 154.04,213.4 154.32,213.9 154.60,215.0 154.89,215.3 155.17,216.2 155.45,216.1 155.74,216.0 156.02,216.3 156.31,216.1 156.59,215.8 156.87,216.3 157.16,215.6 157.44,214.2 157.72,214.5 158.01,213.2 158.29,212.0 158.57,211.7 158.86,210.7 159.14,209.6 159.43,208.2 159.71,207.9 159.99,206.9 160.28,204.6 160.56,204.6 160.84,203.3 161.13,201.7 161.41,200.6 161.69,199.2 161.98,197.8 162.26,196.7 162.54,196.0 162.83,193.4 163.11,192.4 163.40,190.8 163.68,189.0 163.96,187.8 164.25,186.4 164.53,186.0 164.81,186.1 165.10,186.5 165.38,186.6 165.66,189.2 165.95,188.9 166.23,190.6 166.52,191.9 166.80,193.4 167.08,195.6 167.37,196.3 167.65,198.4 167.93,199.6 168.22,200.0 168.50,202.2 168.78,202.9 169.07,205.7 169.35,205.8 169.63,207.0 169.92,207.9 170.20,209.5 170.49,210.9 170.77,211.9 171.05,212.8 171.34,213.9 171.62,215.1 171.90,216.6 172.19,216.2 172.47,217.5 172.75,218.1 173.04,218.7 173.32,219.5 173.61,220.3 173.89,221.5 174.17,221.7 174.46,222.1 174.74,223.0 175.02,223.3 175.31,223.6 175.59,224.3 175.87,224.3 176.16,225.3 176.44,225.6 176.72,225.7 177.01,225.7 177.29,227.1 177.58,226.8 177.86,228.2 178.14,227.0 178.43,227.7 178.71,227.3 178.99,227.7 179.28,228.0 179.56,227.5 179.84,227.8 180.13,228.0 180.41,228.0 180.70,228.2 180.98,228.4 181.26,228.3 181.55,228.1 181.83,227.8 182.11,227.5 182.40,227.6 182.68,227.6 182.96,228.0 183.25,227.5 183.53,227.1 183.81,227.8 184.10,227.2 184.38,227.1 184.67,227.2 184.95,227.4 185.23,226.1 185.52,226.5 185.80,227.0 186.08,226.6 186.37,226.3 186.65,226.3 186.93,226.9 187.22,226.0 187.50,226.4 187.79,226.2 188.07,225.6 188.35,225.8 188.64,225.3 188.92,225.0 189.20,224.6 189.49,225.3 189.77,224.6 190.05,224.4 190.34,224.0 190.62,225.1 190.90,224.5 191.19,224.0 191.47,223.6 191.76,223.0 192.04,223.7 192.32,223.5 192.61,222.5 192.89,223.4 193.17,223.0 193.46,222.0 193.74,221.9 194.02,221.6 194.31,221.5 194.59,221.0 194.88,219.9 195.16,220.8 195.44,219.8 195.73,219.8 196.01,219.3 196.29,218.1 196.58,217.9 196.86,217.6 197.14,217.2 197.43,216.3 197.71,215.7 197.99,215.7 198.28,214.9 198.56,214.8 198.85,213.8 199.13,214.6 199.41,213.8 199.70,213.8 199.98,213.8 200.26,213.8 200.55,214.4 200.83,213.4 201.11,212.4 201.40,213.0 201.68,212.4 201.97,212.7 202.25,212.0 202.53,211.7 202.82,211.6 203.10,211.2 203.38,210.4 203.67,210.6 203.95,210.6 204.23,210.8 204.52,209.7 204.80,209.2 205.08,209.2 205.37,208.7 205.65,208.7 205.94,207.6 206.22,206.6 206.50,206.6 206.79,205.9 207.07,204.0 207.35,203.4 207.64,201.1 207.92,200.2 208.20,198.2 208.49,196.7 208.77,194.7 209.06,193.0 209.34,191.2 209.62,189.8 209.91,187.9 210.19,185.7 210.47,183.4 210.76,183.0 211.04,181.4 211.32,178.8 211.61,177.9 211.89,175.2 212.17,173.6 212.46,172.8 212.74,172.5 213.03,170.2 213.31,170.0 213.59,171.6 213.88,170.4 214.16,172.8 214.44,173.9 214.73,175.0 215.01,176.7 215.29,179.7 215.58,179.1 215.86,181.1 216.15,182.9 216.43,184.6 216.71,186.3 217.00,190.1 217.28,191.5 217.56,192.4 217.85,195.0 218.13,197.4 218.41,199.1 218.70,199.7 218.98,202.2 219.26,204.0 219.55,205.6 219.83,206.9 220.12,206.8 220.40,209.6 220.68,209.3 220.97,210.8 221.25,211.9 221.53,210.7 221.82,210.6 222.10,212.2 222.38,212.0 222.67,212.2 222.95,212.2 223.24,214.0 223.52,213.1 223.80,212.8 224.09,213.6 224.37,213.3 224.65,214.2 224.94,214.0 225.22,213.8 225.50,214.8 225.79,214.2 226.07,215.1 226.35,215.5 226.64,214.7 226.92,214.6 227.21,215.1 227.49,215.6 227.77,215.1 228.06,215.3 228.34,215.2 228.62,215.4 228.91,215.6 229.19,214.9 229.47,215.0 229.76,215.3 230.04,214.9 230.33,215.3 230.61,215.5 230.89,215.2 231.18,214.8 231.46,214.6 231.74,216.0 232.03,215.4 232.31,214.2 232.59,214.3 232.88,215.8 233.16,215.5 233.44,214.6 233.73,215.1 234.01,213.5 234.30,214.3 234.58,214.6 234.86,213.0 235.15,213.6 235.43,214.4 235.71,214.5 236.00,213.4 236.28,213.9 236.56,214.5 236.85,213.3 237.13,212.6 237.42,213.2 237.70,212.9 237.98,213.8 238.27,213.0 238.55,212.3 238.83,214.1 239.12,212.2 239.40,212.7 239.68,212.7 239.97,212.6 240.25,212.1 240.53,212.3 240.82,211.7 241.10,210.8 241.39,211.4 241.67,211.3 241.95,211.2 242.24,211.2 242.52,210.6 242.80,211.7 243.09,211.8 243.37,209.3 243.65,210.6 243.94,210.0 244.22,208.7 244.51,210.5 244.79,209.8 245.07,209.8 245.36,209.5 245.64,210.5 245.92,210.5 246.21,209.8 246.49,209.9 246.77,209.3 247.06,209.4 247.34,208.7 247.62,209.1 247.91,208.5 248.19,209.1 248.48,209.3 248.76,208.9 249.04,209.3 249.33,210.2 249.61,207.0 249.89,208.3 250.18,207.8 250.46,207.7 250.74,207.1 251.03,207.9 251.31,207.6 251.60,207.2 251.88,207.4 252.16,207.1 252.45,205.8 252.73,208.0 253.01,207.0 253.30,206.4 253.58,207.2 253.86,206.4 254.15,205.3 254.43,207.3 254.71,205.5 255.00,206.3 255.28,206.5 255.57,207.2 255.85,207.0 256.13,206.2 256.42,205.5 256.70,205.6 256.98,206.6 257.27,207.0 257.55,206.0 257.83,205.1 258.12,206.2 258.40,205.1 258.69,205.0 258.97,205.0 259.25,205.5 259.54,205.2 259.82,205.6 260.10,205.7 260.39,205.1 260.67,203.1 260.95,203.4 261.24,204.6 261.52,204.4 261.80,205.8 262.09,204.2 262.37,204.1 262.66,204.7 262.94,204.7 263.22,203.7 263.51,204.2 263.79,202.9 264.07,203.0 264.36,204.4 264.64,202.5 264.92,204.1 265.21,203.8 265.49,203.8 265.78,203.8 266.06,203.5 266.34,201.4 266.63,202.2 266.91,202.4 267.19,203.4 267.48,201.8 267.76,202.0 268.04,202.2 268.33,203.3 268.61,201.2 268.89,201.2 269.18,202.6 269.46,200.5 269.75,202.2 270.03,201.5 270.31,200.6 270.60,201.4 270.88,200.9 271.16,201.7 271.45,201.7 271.73,202.5 272.01,201.3 272.30,201.3 272.58,200.7 272.87,201.0 273.15,201.7 273.43,199.4 273.72,201.2 274.00,200.3 274.28,200.6 274.57,200.7 274.85,201.0 275.13,200.5 275.42,199.9 275.70,200.3 275.98,200.0 276.27,199.8 276.55,200.0 276.84,200.4 277.12,199.7 277.40,199.7 277.69,198.5 277.97,199.3 278.25,197.8 278.54,199.7 278.82,198.3 279.10,200.0 279.39,201.2 279.67,198.5 279.96,199.7 280.24,198.9 280.52,198.0 280.81,197.7 281.09,198.7 281.37,199.2 281.66,198.3 281.94,196.8 282.22,197.0 282.51,197.5 282.79,198.6 283.07,197.7 283.36,197.6 283.64,198.2 283.93,196.9 284.21,196.9 284.49,196.7 284.78,195.3 285.06,196.9 285.34,196.7 285.63,197.1 285.91,195.2 286.19,195.4 286.48,196.6 286.76,196.0 287.05,196.7 287.33,194.7 287.61,195.4 287.90,194.6 288.18,195.2 288.46,194.3 288.75,195.0 289.03,195.2 289.31,194.6 289.60,192.4 289.88,194.4 290.16,193.7 290.45,192.2 290.73,192.1 291.02,192.5 291.30,192.5 291.58,191.3 291.87,189.8 292.15,190.7 292.43,189.8 292.72,190.9 293.00,186.9 293.28,188.9 293.57,186.7 293.85,183.5 294.14,182.3 294.42,178.5 294.70,176.3 294.99,171.5 295.27,168.1 295.55,162.5 295.84,156.5 296.12,150.1 296.40,139.1 296.69,128.3 296.97,115.8 297.25,100.4 297.54,96.0 297.82,95.2 298.11,94.8 298.39,107.3 298.67,127.0 298.96,140.7 299.24,150.9 299.52,157.6 299.81,164.9 300.09,170.1 300.37,174.3 300.66,176.0 300.94,177.8 301.23,178.2 301.51,180.1 301.79,179.9 302.08,181.4 302.36,182.2 302.64,184.1 302.93,182.2 303.21,181.0 303.49,183.4 303.78,181.6 304.06,182.4 304.34,182.3 304.63,181.8 304.91,183.8 305.20,183.2 305.48,182.3 305.76,182.9 306.05,182.5 306.33,183.5 306.61,182.6 306.90,182.3 307.18,182.4 307.46,182.6 307.75,183.2 308.03,182.2 308.32,182.9 308.60,183.3 308.88,184.9 309.17,183.6 309.45,180.2 309.73,182.3 310.02,182.3 310.30,182.9 310.58,183.9 310.87,183.1 311.15,180.4 311.43,182.6 311.72,182.4 312.00,182.6 312.29,183.3 312.57,181.1 312.85,183.0 313.14,180.5 313.42,182.0 313.70,182.3 313.99,183.9 314.27,181.3 314.55,180.4 314.84,182.5 315.12,181.4 315.41,183.4 315.69,181.4 315.97,181.4 316.26,183.3 316.54,182.4 316.82,183.3 317.11,181.2 317.39,184.0 317.67,182.1 317.96,183.4 318.24,181.9 318.52,181.5 318.81,182.7 319.09,183.1 319.38,184.4 319.66,183.3 319.94,183.6 320.23,183.0 320.51,184.5 320.79,180.0 321.08,180.8 321.36,178.0 321.64,176.6 321.93,174.9 322.21,176.3 322.50,174.2 322.78,174.1 323.06,175.1 323.35,174.3 323.63,175.9 323.91,176.1 324.20,174.6 324.48,176.0 324.76,174.7 325.05,175.3 325.33,175.3 325.61,177.0 325.90,175.3 326.18,174.5 326.47,174.5 326.75,176.4 327.03,173.8 327.32,174.9 327.60,175.0 327.88,173.1 328.17,174.9 328.45,176.2 328.73,175.5 329.02,174.5 329.30,175.9 329.59,175.7 329.87,177.0 330.15,174.5 330.44,174.8 330.72,175.1 331.00,174.8 331.29,175.0 331.57,174.7 331.85,174.1 332.14,173.1 332.42,174.0 332.70,173.1 332.99,173.3 333.27,173.6 333.56,174.4 333.84,174.6 334.12,172.7 334.41,173.8 334.69,174.1 334.97,173.2 335.26,171.6 335.54,171.0 335.82,173.5 336.11,173.5 336.39,172.8 336.68,171.5 336.96,173.6 337.24,173.3 337.53,172.0 337.81,171.7 338.09,170.1 338.38,172.4 338.66,170.2 338.94,172.1 339.23,172.1 339.51,171.4 339.79,172.6 340.08,170.8 340.36,171.5 340.65,171.6 340.93,171.0 341.21,170.2 341.50,171.6 341.78,170.8 342.06,170.1 342.35,170.0 342.63,170.2 342.91,172.0 343.20,170.0 343.48,169.5 343.77,168.7 344.05,168.4 344.33,167.7 344.62,169.5 344.90,169.2 345.18,168.2 345.47,167.7 345.75,168.6 346.03,168.3 346.32,167.5 346.60,168.8 346.88,168.6 347.17,168.3 347.45,169.0 347.74,167.6 348.02,169.3 348.30,167.1 348.59,168.4 348.87,168.4 349.15,167.5 349.44,168.0 349.72,166.5 350.00,166.2 350.29,167.3 350.57,166.7 350.86,167.8 351.14,167.2 351.42,167.7 351.71,167.3 351.99,167.1 352.27,166.9 352.56,166.4 352.84,166.2 353.12,168.4 353.41,164.9 353.69,166.2 353.97,167.1 354.26,166.4 354.54,167.2 354.83,166.3 355.11,164.5 355.39,165.2 355.68,164.0 355.96,165.9 356.24,166.1 356.53,164.1 356.81,164.7 357.09,163.4 357.38,162.1 357.66,162.6 357.95,161.2 358.23,161.7 358.51,162.0 358.80,162.1 359.08,162.2 359.36,160.4 359.65,160.6 359.93,160.4 360.21,160.2 360.50,156.9 360.78,158.4 361.06,159.6 361.35,157.6 361.63,158.5 361.92,158.8 362.20,156.0 362.48,157.3 362.77,157.4 363.05,157.0 363.33,155.3 363.62,156.7 363.90,155.7 364.18,156.7 364.47,156.0 364.75,154.9 365.04,155.3 365.32,154.2 365.60,154.0 365.89,152.9 366.17,153.8 366.45,154.5 366.74,153.6 367.02,153.2 367.30,152.4 367.59,152.2 367.87,153.1 368.15,150.8 368.44,153.7 368.72,151.6 369.01,153.3 369.29,152.2 369.57,150.5 369.86,151.2 370.14,150.5 370.42,150.4 370.71,150.5 370.99,149.0 371.27,148.6 371.56,148.5 371.84,147.3 372.13,148.0 372.41,148.2 372.69,147.8 372.98,147.5 373.26,146.6 373.54,147.3 373.83,144.4 374.11,145.5 374.39,145.1 374.68,145.8 374.96,145.2 375.24,144.8 375.53,143.7 375.81,144.1 376.10,141.8 376.38,142.3 376.66,139.9 376.95,142.9 377.23,142.3 377.51,139.9 377.80,139.2 378.08,137.6 378.36,137.7 378.65,138.7 378.93,138.1 379.22,136.4 379.50,136.9 379.78,136.3 380.07,136.9 380.35,136.7 380.63,135.5 380.92,135.3 381.20,134.8 381.48,132.5 381.77,134.1 382.05,133.4 382.33,133.7 382.62,130.9 382.90,132.8 383.19,131.0 383.47,131.3 383.75,131.6 384.04,128.6 384.32,128.1 384.60,129.6 384.89,127.0 385.17,126.6 385.45,127.4 385.74,126.2 386.02,126.5 386.31,125.6 386.59,124.9 386.87,125.3 387.16,126.0 387.44,123.5 387.72,124.5 388.01,123.8 388.29,122.5 388.57,122.4 388.86,120.8 389.14,120.7 389.42,121.2 389.71,120.6 389.99,121.4 390.28,118.8 390.56,119.4 390.84,118.8 391.13,118.9 391.41,119.8 391.69,117.4 391.98,119.0 392.26,117.5 392.54,117.5 392.83,118.5 393.11,117.1 393.40,117.7 393.68,117.0 393.96,116.6 394.25,116.2 394.53,114.7 394.81,115.4 395.10,116.0 395.38,115.9 395.66,114.1 395.95,116.2 396.23,115.7 396.51,113.8 396.80,113.9 397.08,115.2 397.37,113.0 397.65,113.8 397.93,114.4 398.22,114.3 398.50,114.3 398.78,114.7 399.07,113.7 399.35,114.0 399.63,116.3 399.92,113.2 400.20,114.1 400.49,114.7 400.77,114.0 401.05,115.8 401.34,114.8 401.62,115.5 401.90,112.5 402.19,116.0 402.47,116.0 402.75,114.4 403.04,116.3 403.32,115.4 403.60,116.1 403.89,117.0 404.17,115.5 404.46,114.6 404.74,115.6 405.02,114.6 405.31,115.2 405.59,115.4 405.87,115.6 406.16,117.5 406.44,117.4 406.72,116.0 407.01,118.1 407.29,115.7 407.58,116.9 407.86,117.5 408.14,118.9 408.43,118.7 408.71,118.7 408.99,119.6 409.28,119.3 409.56,120.0 409.84,118.3 410.13,117.6 410.41,119.0 410.69,120.3 410.98,119.9 411.26,120.7 411.55,120.7 411.83,120.7 412.11,121.2 412.40,120.0 412.68,121.8 412.96,120.1 413.25,121.0 413.53,120.0 413.81,121.9 414.10,120.2 414.38,123.1 414.67,120.8 414.95,122.4 415.23,122.2 415.52,121.7 415.80,123.8 416.08,122.4 416.37,124.3 416.65,122.3 416.93,122.7 417.22,121.7 417.50,124.2 417.78,124.7 418.07,124.2 418.35,123.9 418.64,123.3 418.92,126.3 419.20,124.9 419.49,122.6 419.77,124.0 420.05,121.9 420.34,125.6 420.62,126.0 420.90,125.5 421.19,124.1 421.47,123.5 421.76,122.8 422.04,124.5 422.32,123.3 422.61,123.5 422.89,123.2 423.17,123.5 423.46,124.5 423.74,125.2 424.02,123.7 424.31,123.5 424.59,122.4 424.87,122.3 425.16,122.4 425.44,124.1 425.73,123.4 426.01,124.0 426.29,123.4 426.58,122.6 426.86,121.8 427.14,122.5 427.43,121.5 427.71,124.5 427.99,122.8 428.28,122.1 428.56,124.2 428.85,121.9 429.13,122.7 429.41,121.9 429.70,122.3 429.98,121.5 430.26,122.2 430.55,123.0 430.83,120.4 431.11,119.5 431.40,122.6 431.68,121.4 431.96,122.0 432.25,120.8 432.53,122.4 432.82,122.5 433.10,119.7 433.38,121.3 433.67,120.1 433.95,119.1 434.23,120.2 434.52,120.9 434.80,119.1 435.08,119.1 435.37,121.3 435.65,120.1 435.94,120.3 436.22,118.8 436.50,119.1 436.79,119.7 437.07,119.6 437.35,119.3 437.64,120.5 437.92,118.9 438.20,117.2 438.49,117.5 438.77,118.0 439.05,118.9 439.34,116.9 439.62,116.9 439.91,116.9 440.19,116.0 440.47,115.7 440.76,115.9 441.04,116.8 441.32,116.0 441.61,115.1 441.89,115.4 442.17,113.6 442.46,115.4 442.74,114.8 443.03,114.1 443.31,112.1 443.59,115.1 443.88,110.3 444.16,111.7 444.44,111.5 444.73,112.6 445.01,110.3 445.29,111.6 445.58,110.9 445.86,110.5 446.14,111.2 446.43,111.4 446.71,110.2 447.00,109.3 447.28,107.2 447.56,110.3 447.85,108.4 448.13,106.6 448.41,108.2 448.70,109.0 448.98,107.3 449.26,106.0 449.55,108.8 449.83,107.0 450.12,106.4 450.40,106.6 450.68,103.3 450.97,104.8 451.25,104.3 451.53,106.0 451.82,103.0 452.10,102.5 452.38,101.2 452.67,101.2 452.95,101.3 453.23,101.2 453.52,100.2 453.80,101.7 454.09,99.9 454.37,99.5 454.65,99.7 454.94,98.5 455.22,97.0 455.50,95.6 455.79,96.9 456.07,95.3 456.35,96.8 456.64,94.4 456.92,92.5 457.21,94.1 457.49,94.4 457.77,92.7 458.06,92.3 458.34,91.6 458.62,92.2 458.91,90.1 459.19,88.9 459.47,87.6 459.76,86.0 460.04,88.1 460.32,87.3 460.61,84.7 460.89,85.6 461.18,84.7 461.46,83.6 461.74,83.1 462.03,83.7 462.31,81.5 462.59,81.8 462.88,82.0 463.16,81.8 463.44,81.3 463.73,81.4 464.01,81.5 464.30,80.0 464.58,80.8 464.86,80.1 465.15,81.9 465.43,79.2 465.71,80.4 466.00,81.5 466.28,80.9 466.56,81.2 466.85,81.3 467.13,82.5 467.41,81.5 467.70,82.9 467.98,83.3 468.27,82.6 468.55,84.7 468.83,84.6 469.12,85.9 469.40,86.9 469.68,87.0 469.97,86.1 470.25,88.1 470.53,86.9 470.82,88.2 471.10,91.0 471.39,90.1 471.67,92.1 471.95,91.1 472.24,91.9 472.52,91.4 472.80,93.9 473.09,93.4 473.37,94.8 473.65,95.1 473.94,95.8 474.22,96.2 474.50,96.4 474.79,97.1 475.07,97.1 475.36,96.4 475.64,99.5 475.92,101.6 476.21,101.5 476.49,103.3 476.77,102.4 477.06,101.8 477.34,102.4 477.62,104.7 477.91,105.0 478.19,105.2 478.48,106.7 478.76,106.0 479.04,107.9 479.33,107.8 479.61,108.8 479.89,110.3 480.18,109.6 480.46,111.5 480.74,111.9 481.03,110.4 481.31,113.6 481.59,110.7 481.88,112.1 482.16,113.2 482.45,110.8 482.73,114.0 483.01,114.4 483.30,113.4 483.58,114.0 483.86,114.1 484.15,113.9 484.43,115.2 484.71,114.0 485.00,114.4 485.28,114.7 485.57,115.2 485.85,115.4 486.13,113.1 486.42,112.5 486.70,114.3 486.98,114.3 487.27,113.4 487.55,114.7 487.83,114.9 488.12,114.7 488.40,115.9 488.68,113.4 488.97,114.4 489.25,116.1 489.54,114.9 489.82,113.3 490.10,114.5 490.39,115.3 490.67,116.1 490.95,114.8 491.24,115.2 491.52,113.0 491.80,113.7 492.09,115.0 492.37,112.9 492.66,113.6 492.94,111.9 493.22,114.8 493.51,113.2 493.79,113.8 494.07,111.8 494.36,111.8 494.64,114.6 494.92,112.5 495.21,112.2 495.49,113.1 495.77,113.1 496.06,110.7 496.34,111.6 496.63,112.4 496.91,112.3 497.19,112.6 497.48,111.9 497.76,111.9 498.04,112.4 498.33,111.5 498.61,111.3 498.89,111.5 499.18,112.0 499.46,111.8 499.75,111.4 500.03,111.6 500.31,111.7 500.60,111.9 500.88,111.9 501.16,110.3 501.45,112.3 501.73,109.9 502.01,111.7 502.30,110.5 502.58,111.6 502.86,111.9 503.15,109.1 503.43,111.3 503.72,110.9 504.00,110.1 504.28,110.8 504.57,109.8 504.85,110.3 505.13,109.1 505.42,110.6 505.70,110.3 505.98,110.3 506.27,108.9 506.55,111.1 506.84,111.1 507.12,109.1 507.40,108.6 507.69,108.5 507.97,109.4 508.25,109.5 508.54,107.8 508.82,106.5 509.10,108.7 509.39,108.1 509.67,108.2 509.95,108.4 510.24,106.8 510.52,107.8 510.81,107.3 511.09,107.9 511.37,108.5 511.66,107.3 511.94,106.5 512.22,108.3 512.51,107.7 512.79,106.8 513.07,105.3 513.36,106.1 513.64,106.9 513.93,107.2 514.21,106.2 514.49,107.0 514.78,105.9 515.06,106.0 515.34,106.8 515.63,106.0 515.91,106.3 516.19,106.9 516.48,107.1 516.76,105.4 517.04,105.6 517.33,104.6 517.61,104.5 517.90,105.9 518.18,105.0 518.46,103.7 518.75,105.8 519.03,104.4 519.31,104.8 519.60,105.3 519.88,105.2 520.16,104.6 520.45,102.7 520.73,104.9 521.02,103.7 521.30,102.7 521.58,101.8 521.87,104.8 522.15,103.5 522.43,103.3 522.72,103.5 523.00,102.6 523.28,101.1 523.57,102.8 523.85,102.8 524.13,102.1 524.42,102.8 524.70,102.8 524.99,100.1 525.27,100.2" stroke="#000" stroke-width="1.8" fill="none" stroke-linejoin="round"/>
<path d="M44.00,347.0 44.57,347.3 45.13,347.2 45.70,347.1 46.27,347.3 46.84,346.6 47.40,346.7 47.97,346.5 48.54,346.8 49.10,347.0 49.67,346.6 50.24,346.4 50.80,345.3 51.37,345.2 51.94,344.1 52.51,342.8 53.07,339.6 53.64,335.6 54.21,331.7 54.77,323.6 55.34,311.1 55.91,296.7 56.47,277.1 57.04,260.9 57.61,261.3 58.18,274.9 58.74,286.2 59.31,295.3 59.88,302.5 60.44,306.2 61.01,308.7 61.58,308.3 62.14,307.3 62.71,305.6 63.28,304.9 63.85,303.6 64.41,302.5 64.98,300.9 65.55,299.9 66.11,299.5 66.68,298.0 67.25,296.8 67.81,296.5 68.38,295.1 68.95,294.2 69.52,292.2 70.08,289.4 70.65,286.1 71.22,284.6 71.78,283.7 72.35,283.1 72.92,283.7 73.48,284.5 74.05,284.4 74.62,285.6 75.19,286.1 75.75,285.8 76.32,285.6 76.89,285.2 77.45,285.2 78.02,283.8 78.59,283.3 79.15,283.1 79.72,282.1 80.29,281.4 80.86,281.3 81.42,281.4 81.99,281.0 82.56,279.7 83.12,279.0 83.69,279.2 84.26,278.8 84.82,278.3 85.39,278.1 85.96,277.8 86.53,276.8 87.09,276.4 87.66,275.0 88.23,274.2 88.79,274.0 89.36,273.2 89.93,272.2 90.49,270.7 91.06,268.6 91.63,265.5 92.20,257.5 92.76,244.9 93.33,225.8 93.90,207.0 94.46,191.0 95.03,183.4 95.60,177.2 96.16,175.4 96.73,178.5 97.30,192.5 97.87,208.4 98.43,220.0 99.00,225.5 99.57,225.3 100.13,224.7 100.70,222.0 101.27,220.9 101.83,221.4 102.40,222.5 102.97,225.3 103.54,231.0 104.10,237.3 104.67,242.0 105.24,244.9 105.80,247.7 106.37,250.4 106.94,252.7 107.50,252.8 108.07,254.4 108.64,254.3 109.21,256.5 109.77,256.6 110.34,257.2 110.91,256.7 111.47,256.4 112.04,257.5 112.61,257.6 113.17,256.9 113.74,256.6 114.31,257.6 114.88,257.3 115.44,258.5 116.01,256.7 116.58,256.5 117.14,256.5 117.71,255.4 118.28,255.4 118.84,256.3 119.41,255.0 119.98,254.2 120.55,253.2 121.11,253.3 121.68,252.5 122.25,251.4 122.81,250.2 123.38,249.6 123.95,248.6 124.51,247.0 125.08,246.5 125.65,243.5 126.22,242.2 126.78,240.4 127.35,236.8 127.92,231.3 128.48,226.6 129.05,220.2 129.62,210.4 130.18,202.9 130.75,200.8 131.32,202.1 131.89,205.9 132.45,214.0 133.02,222.1 133.59,225.6 134.15,231.0 134.72,234.6 135.29,236.9 135.85,238.6 136.42,240.9 136.99,242.3 137.56,243.3 138.12,242.7 138.69,243.5 139.26,243.5 139.82,243.3 140.39,242.3 140.96,241.6 141.52,240.7 142.09,239.1 142.66,236.2 143.23,234.9 143.79,232.3 144.36,229.2 144.93,227.9 145.49,228.8 146.06,224.5 146.63,221.7 147.19,221.0 147.76,220.8 148.33,217.6 148.90,215.9 149.46,213.4 150.03,211.8 150.60,211.5 151.16,209.6 151.73,207.8 152.30,208.5 152.86,209.9 153.43,210.9 154.00,213.4 154.57,214.7 155.13,215.0 155.70,217.3 156.27,216.3 156.83,215.4 157.40,213.3 157.97,212.1 158.53,213.0 159.10,209.0 159.67,208.4 160.24,205.4 160.80,203.8 161.37,201.3 161.94,197.5 162.50,195.4 163.07,192.7 163.64,189.6 164.20,187.1 164.77,185.8 165.34,187.5 165.91,190.2 166.47,192.3 167.04,194.1 167.61,198.0 168.17,200.3 168.74,203.4 169.31,207.6 169.87,208.3 170.44,211.0 171.01,212.3 171.58,214.7 172.14,216.2 172.71,219.9 173.28,220.1 173.84,220.6 174.41,224.0 174.98,221.9 175.54,224.9 176.11,225.9 176.68,226.3 177.25,226.2 177.81,226.8 178.38,227.0 178.95,228.3 179.51,225.5 180.08,227.4 180.65,228.1 181.21,227.4 181.78,226.2 182.35,227.6 182.92,227.0 183.48,228.4 184.05,228.9 184.62,227.4 185.18,225.2 185.75,226.7 186.32,225.7 186.88,227.1 187.45,227.8 188.02,226.1 188.59,227.6 189.15,226.7 189.72,225.6 190.29,223.6 190.85,224.5 191.42,222.5 191.99,224.8 192.55,223.4 193.12,224.4 193.69,222.7 194.26,219.5 194.82,221.6 195.39,221.0 195.96,220.8 196.52,216.9 197.09,216.0 197.66,216.3 198.22,214.3 198.79,213.4 199.36,213.2 199.93,217.1 200.49,212.9 201.06,212.1 201.63,212.4 202.19,212.5 202.76,213.6 203.33,212.6 203.89,211.8 204.46,210.1 205.03,209.4 205.60,207.3 206.16,205.0 206.73,208.0 207.30,203.1 207.86,202.2 208.43,196.9 209.00,193.4 209.56,189.8 210.13,184.6 210.70,182.7 211.27,180.0 211.83,177.6 212.40,174.1 212.97,172.5 213.53,171.2 214.10,172.3 214.67,172.2 215.23,177.2 215.80,183.2 216.37,184.8 216.94,190.0 217.50,192.8 218.07,196.0 218.64,203.2 219.20,204.2 219.77,208.6 220.34,209.3 220.90,209.4 221.47,207.8 222.04,211.8 222.61,210.4 223.17,210.1 223.74,215.3 224.31,215.0 224.87,215.2 225.44,214.6 226.01,214.7 226.57,215.5 227.14,215.3 227.71,215.3 228.28,216.4 228.84,212.0 229.41,216.6 229.98,214.5 230.54,216.5 231.11,216.9 231.68,213.9 232.24,216.1 232.81,215.9 233.38,213.6 233.95,213.7 234.51,214.4 235.08,210.9 235.65,213.3 236.21,214.0 236.78,212.9 237.35,211.0 237.91,212.5 238.48,215.1 239.05,214.5 239.62,212.2 240.18,210.9 240.75,211.8 241.32,211.6 241.88,210.3 242.45,210.6 243.02,211.8 243.58,212.0 244.15,206.7 244.72,211.7 245.29,210.2 245.85,211.5 246.42,209.5 246.99,210.0 247.55,211.7 248.12,204.2 248.69,211.2 249.25,208.8 249.82,205.4 250.39,203.8 250.96,208.4 251.52,206.0 252.09,209.1 252.66,207.6 253.22,206.9 253.79,208.5 254.36,207.0 254.92,207.7 255.49,207.7 256.06,206.7 256.63,207.3 257.19,207.1 257.76,203.3 258.33,204.9 258.89,205.0 259.46,204.4 260.03,202.2 260.59,203.7 261.16,205.1 261.73,204.7 262.30,206.8 262.86,203.0 263.43,203.1 264.00,202.7 264.56,203.0 265.13,202.3 265.70,199.9 266.26,203.6 266.83,204.6 267.40,204.6 267.97,200.6 268.53,202.0 269.10,205.4 269.67,201.8 270.23,202.4 270.80,201.4 271.37,203.3 271.93,203.0 272.50,205.3 273.07,201.9 273.64,201.6 274.20,198.4 274.77,199.7 275.34,198.9 275.90,199.4 276.47,197.4 277.04,201.9 277.60,197.5 278.17,199.8 278.74,196.7 279.31,199.6 279.87,201.8 280.44,197.0 281.01,199.0 281.57,197.9 282.14,198.4 282.71,198.4 283.27,196.2 283.84,196.8 284.41,195.7 284.98,195.0 285.54,194.0 286.11,197.9 286.68,194.3 287.24,196.8 287.81,196.2 288.38,192.8 288.94,196.4 289.51,192.3 290.08,194.7 290.65,195.7 291.21,190.8 291.78,189.4 292.35,188.1 292.91,192.8 293.48,185.0 294.05,179.2 294.61,178.1 295.18,169.0 295.75,159.5 296.32,141.2 296.88,115.0 297.45,95.1 298.02,93.5 298.58,118.9 299.15,146.5 299.72,161.4 300.28,173.9 300.85,177.5 301.42,179.8 301.99,179.5 302.55,179.1 303.12,182.6 303.69,183.2 304.25,184.5 304.82,182.6 305.39,182.5 305.95,183.5 306.52,181.0 307.09,181.3 307.66,184.3 308.22,180.3 308.79,182.7 309.36,184.4 309.92,183.2 310.49,183.5 311.06,180.0 311.62,182.0 312.19,181.6 312.76,183.3 313.33,182.9 313.89,182.0 314.46,186.0 315.03,183.1 315.59,181.4 316.16,180.9 316.73,182.3 317.29,181.3 317.86,186.3 318.43,184.1 319.00,182.3 319.56,181.6 320.13,180.3 320.70,180.5 321.26,181.7 321.83,177.5 322.40,175.2 322.96,175.7 323.53,171.3 324.10,177.0 324.67,174.9 325.23,178.4 325.80,175.0 326.37,174.3 326.93,175.8 327.50,174.0 328.07,178.3 328.63,176.0 329.20,176.2 329.77,176.1 330.34,174.5 330.90,176.2 331.47,175.3 332.04,178.6 332.60,174.6 333.17,175.1 333.74,173.0 334.30,172.9 334.87,172.8 335.44,176.0 336.01,173.1 336.57,174.8 337.14,171.8 337.71,171.4 338.27,167.7 338.84,173.6 339.41,176.1 339.97,170.8 340.54,174.3 341.11,172.8 341.68,169.2 342.24,172.1 342.81,168.3 343.38,169.4 343.94,172.5 344.51,169.9 345.08,166.8 345.64,172.3 346.21,166.5 346.78,168.4 347.35,167.8 347.91,168.0 348.48,166.3 349.05,164.5 349.61,172.0 350.18,165.7 350.75,165.6 351.31,162.0 351.88,167.4 352.45,169.9 353.02,169.9 353.58,172.7 354.15,169.7 354.72,167.0 355.28,165.9 355.85,168.6 356.42,164.8 356.98,164.7 357.55,161.4 358.12,162.9 358.69,166.2 359.25,161.0 359.82,161.3 360.39,154.5 360.95,162.2 361.52,159.5 362.09,161.2 362.65,158.1 363.22,155.2 363.79,153.5 364.36,157.1 364.92,155.4 365.49,152.8 366.06,154.2 366.62,152.4 367.19,154.8 367.76,151.8 368.32,149.5 368.89,151.4 369.46,149.9 370.03,153.8 370.59,149.0 371.16,146.5 371.73,148.7 372.29,147.6 372.86,148.1 373.43,147.3 373.99,143.8 374.56,145.1 375.13,144.1 375.70,140.8 376.26,141.3 376.83,142.0 377.40,137.1 377.96,137.3 378.53,137.8 379.10,137.7 379.66,138.2 380.23,133.3 380.80,136.0 381.37,135.9 381.93,137.0 382.50,131.8 383.07,129.7 383.63,127.3 384.20,130.7 384.77,131.1 385.33,125.6 385.90,127.0 386.47,127.0 387.04,126.3 387.60,122.5 388.17,124.0 388.74,121.7 389.30,119.1 389.87,121.1 390.44,120.7 391.00,117.2 391.57,119.7 392.14,122.6 392.71,114.5 393.27,118.9 393.84,119.0 394.41,116.7 394.97,116.8 395.54,115.1 396.11,118.3 396.67,113.0 397.24,114.5 397.81,110.3 398.38,115.2 398.94,115.3 399.51,110.8 400.08,112.7 400.64,115.7 401.21,113.7 401.78,112.2 402.34,109.5 402.91,115.8 403.48,119.5 404.05,114.4 404.61,116.5 405.18,116.8 405.75,116.0 406.31,116.8 406.88,117.2 407.45,115.4 408.01,123.2 408.58,124.1 409.15,119.2 409.72,122.8 410.28,117.4 410.85,119.1 411.42,122.4 411.98,117.8 412.55,117.8 413.12,121.8 413.68,117.0 414.25,125.5 414.82,123.7 415.39,122.9 415.95,124.2 416.52,121.1 417.09,121.4 417.65,125.6 418.22,126.1 418.79,124.5 419.35,124.2 419.92,123.1 420.49,127.3 421.06,120.9 421.62,122.2 422.19,122.8 422.76,120.5 423.32,120.9 423.89,121.4 424.46,125.8 425.02,127.4 425.59,124.0 426.16,119.6 426.73,121.7 427.29,122.5 427.86,122.1 428.43,121.7 428.99,123.4 429.56,117.8 430.13,120.6 430.69,122.1 431.26,123.0 431.83,121.9 432.40,121.1 432.96,120.6 433.53,119.3 434.10,120.8 434.66,120.0 435.23,118.7 435.80,122.7 436.36,122.5 436.93,118.8 437.50,120.6 438.07,121.4 438.63,118.9 439.20,118.1 439.77,118.4 440.33,113.1 440.90,113.0 441.47,116.8 442.03,115.7 442.60,117.5 443.17,112.8 443.74,115.7 444.30,115.0 444.87,116.4 445.44,109.7 446.00,110.0 446.57,110.8 447.14,110.2 447.70,106.8 448.27,107.2 448.84,104.9 449.41,112.2 449.97,106.3 450.54,105.7 451.11,103.5 451.67,104.0 452.24,104.7 452.81,101.2 453.37,100.8 453.94,104.6 454.51,100.9 455.08,98.5 455.64,96.1 456.21,96.0 456.78,93.4 457.34,94.6 457.91,91.3 458.48,89.6 459.04,88.7 459.61,85.7 460.18,87.1 460.75,91.0 461.31,83.0 461.88,79.7 462.45,84.7 463.01,81.8 463.58,85.8 464.15,81.9 464.71,82.8 465.28,78.9 465.85,77.3 466.42,80.9 466.98,83.5 467.55,80.9 468.12,80.2 468.68,83.4 469.25,84.9 469.82,86.2 470.38,87.9 470.95,94.4 471.52,90.4 472.09,90.4 472.65,90.3 473.22,95.6 473.79,91.5 474.35,99.2 474.92,97.2 475.49,95.3 476.05,100.4 476.62,101.2 477.19,105.5 477.76,100.9 478.32,106.0 478.89,106.9 479.46,110.2 480.02,106.8 480.59,108.6 481.16,115.4 481.72,113.1 482.29,109.3 482.86,113.7 483.43,111.7 483.99,112.3 484.56,111.4 485.13,116.4 485.69,113.1 486.26,114.7 486.83,114.4 487.39,110.9 487.96,112.6 488.53,115.9 489.10,110.7 489.66,114.7 490.23,113.9 490.80,115.4 491.36,115.4 491.93,115.6 492.50,113.7 493.06,113.9 493.63,111.6 494.20,111.7 494.77,114.7 495.33,111.2 495.90,114.6 496.47,114.5 497.03,110.4 497.60,113.3 498.17,110.2 498.73,112.7 499.30,110.1 499.87,112.4 500.44,111.9 501.00,109.1 501.57,115.7 502.14,113.2 502.70,107.4 503.27,111.4 503.84,109.5 504.40,114.8 504.97,109.9 505.54,110.6 506.11,109.1 506.67,110.6 507.24,107.8 507.81,106.8 508.37,107.4 508.94,107.3 509.51,109.4 510.07,108.0 510.64,106.6 511.21,106.5 511.78,105.2 512.34,107.4 512.91,102.5 513.48,106.3 514.04,109.2 514.61,105.7 515.18,104.9 515.74,106.3 516.31,104.0 516.88,104.2 517.45,107.2 518.01,104.1 518.58,109.6 519.15,106.3 519.71,104.6 520.28,103.2 520.85,103.7 521.41,98.9 521.98,104.0 522.55,105.0 523.12,103.8 523.68,101.1 524.25,102.9 524.82,102.4 525.38,100.2" stroke="#000" stroke-width="1.6" fill="none" stroke-linejoin="round"/>
<g font-family="Liberation Sans, Arial, sans-serif" font-weight="bold" font-size="19.5" text-anchor="middle"><text x="72.38" y="415">200</text><text x="129.14" y="415">400</text><text x="185.90" y="415">600</text><text x="242.66" y="415">800</text><text x="299.42" y="415">1000</text><text x="356.18" y="415">1200</text><text x="412.94" y="415">1400</text><text x="469.70" y="415">1600</text><text x="526.46" y="415">1800</text></g>
<g transform="translate(209.5,442) scale(1,1.045)" font-family="Liberation Sans, Arial, sans-serif" font-weight="bold" font-size="19.85"><text x="0" y="0">Raman shift (cm</text><text x="155.1" y="-9.3" font-size="9.8">-1</text><text x="165.3" y="0">)</text></g>
<text transform="translate(19,254) rotate(-90) scale(1.022,1)" font-family="Liberation Sans, Arial, sans-serif" font-weight="bold" font-size="21.5">Intensity (a.u.)</text>
<g font-family="Liberation Sans, Arial, sans-serif" font-size="12.3" stroke="#000" stroke-width="0.6"><text transform="translate(60,256.8) rotate(-90)">144.23</text><text transform="translate(77,279.3) rotate(-90)">197.32</text><text transform="translate(98,171.4) rotate(-90)">283.05</text><text transform="translate(136,198.2) rotate(-90)">404.12</text><text transform="translate(154.5,203.9) rotate(-90)">482.16</text><text transform="translate(169,182.6) rotate(-90)">528.75</text><text transform="translate(217.5,165.2) rotate(-90)">701.85</text><text transform="translate(300.5,89.3) rotate(-90)">995.89</text><text transform="translate(398.8,108.5) rotate(-90)">1350.56</text><text transform="translate(468.8,71.2) rotate(-90)">1582.85</text></g>
<rect x="370.5" y="274.5" width="131" height="82" fill="#fff" stroke="#444" stroke-width="1"/>
<path d="M501.3,275V357.5" stroke="#888" stroke-width="1.5" fill="none"/>
<path d="M371,356.8H502" stroke="#5a5a5a" stroke-width="2" fill="none"/>
<path d="M382,290H419" stroke="#000" stroke-width="2"/>
<path d="M382,320H419" stroke="#f00" stroke-width="2"/>
<g font-family="Liberation Sans, Arial, sans-serif" font-size="15" font-weight="bold"><g transform="translate(423.2,295.2) scale(1,1.07)"><text x="0" y="0">V</text><text x="10.6" y="6.3" font-size="8.8">2</text><text x="15.2" y="0">O</text><text x="27.4" y="6.3" font-size="8.8">5</text><text x="32.6" y="0" letter-spacing="0.3">/RGO</text></g><g transform="translate(423.2,325.6) scale(1,1.07)"><text x="0" y="0">V</text><text x="10.6" y="6.3" font-size="8.8">2</text><text x="15.2" y="0">O</text><text x="27.4" y="6.3" font-size="8.8">5</text></g></g></svg>
</body></html>
